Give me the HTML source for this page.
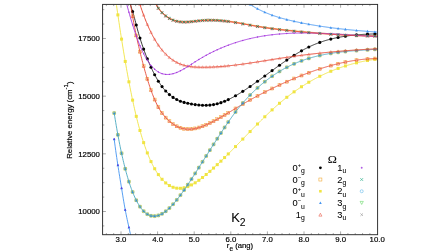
<!DOCTYPE html>
<html><head><meta charset="utf-8"><title>K2 potential curves</title>
<style>
html,body{margin:0;padding:0;background:#fff;}
body{width:448px;height:252px;overflow:hidden;}
svg{display:block;font-family:"Liberation Sans",Arial,Helvetica,sans-serif;}
svg text{fill:#000;}
svg .t text{stroke:#000;stroke-width:0.18px;}
svg .k text{stroke:#000;stroke-width:0.06px;}
</style></head><body>
<svg width="448" height="252" viewBox="0 0 448 252">
<rect x="0" y="0" width="448" height="252" fill="#ffffff"/>
<defs><clipPath id="pc"><rect x="102.60" y="4.40" width="275.00" height="230.30"/></clipPath></defs>
<g clip-path="url(#pc)">
<path d="M128.60,-3.78 L129.10,-1.06 L129.60,1.31 L130.10,3.37 L130.60,5.21 L131.10,6.87 L131.60,8.43 L132.10,9.94 L132.60,11.48 L133.10,13.09 L133.60,14.82 L134.10,16.63 L134.60,18.51 L135.10,20.43 L135.60,22.37 L136.10,24.31 L136.60,26.22 L137.10,28.09 L137.60,29.92 L138.10,31.71 L138.60,33.46 L139.10,35.17 L139.60,36.84 L140.10,38.47 L140.60,40.07 L141.10,41.64 L141.60,43.17 L142.10,44.67 L142.60,46.14 L143.10,47.58 L143.60,48.99 L144.10,50.37 L144.60,51.73 L145.10,53.06 L145.60,54.37 L146.10,55.65 L146.60,56.92 L147.10,58.16 L147.60,59.38 L148.10,60.59 L148.60,61.78 L149.10,62.95 L149.60,64.10 L150.10,65.23 L150.60,66.34 L151.10,67.44 L151.60,68.51 L152.10,69.57 L152.60,70.61 L153.10,71.63 L153.60,72.63 L154.10,73.61 L154.60,74.57 L155.10,75.51 L155.60,76.44 L156.10,77.34 L156.60,78.22 L157.10,79.09 L157.60,79.93 L158.10,80.76 L158.60,81.56 L159.10,82.35 L159.60,83.12 L160.10,83.86 L160.60,84.59 L161.10,85.30 L161.60,85.99 L162.10,86.66 L162.60,87.32 L163.10,87.96 L163.60,88.58 L164.10,89.18 L164.60,89.76 L165.10,90.33 L165.60,90.89 L166.10,91.42 L166.60,91.94 L167.10,92.45 L167.60,92.94 L168.10,93.42 L168.60,93.88 L169.10,94.32 L169.60,94.76 L170.10,95.18 L170.60,95.58 L171.10,95.97 L171.60,96.35 L172.10,96.72 L172.60,97.07 L173.10,97.41 L173.60,97.74 L174.10,98.06 L174.60,98.37 L175.10,98.67 L175.60,98.95 L176.10,99.23 L176.60,99.49 L177.10,99.74 L177.60,99.99 L178.10,100.22 L178.60,100.45 L179.10,100.67 L179.60,100.88 L180.10,101.08 L180.60,101.27 L181.10,101.46 L181.60,101.63 L182.10,101.80 L182.60,101.97 L183.10,102.12 L183.60,102.27 L184.10,102.42 L184.60,102.56 L185.10,102.69 L185.60,102.82 L186.10,102.94 L186.60,103.06 L187.10,103.17 L187.60,103.28 L188.10,103.38 L188.60,103.48 L189.10,103.58 L189.60,103.68 L190.10,103.77 L190.60,103.86 L191.10,103.95 L191.60,104.03 L192.10,104.12 L192.60,104.20 L193.10,104.28 L193.60,104.36 L194.10,104.43 L194.60,104.51 L195.10,104.58 L195.60,104.64 L196.10,104.71 L196.60,104.77 L197.10,104.83 L197.60,104.89 L198.10,104.94 L198.60,104.99 L199.10,105.04 L199.60,105.09 L200.10,105.13 L200.60,105.16 L201.10,105.20 L201.60,105.23 L202.10,105.25 L202.60,105.28 L203.10,105.29 L203.60,105.31 L204.10,105.32 L204.60,105.32 L205.10,105.33 L205.60,105.32 L206.10,105.32 L206.60,105.30 L207.10,105.29 L207.60,105.26 L208.10,105.24 L208.60,105.21 L209.10,105.17 L209.60,105.13 L210.10,105.08 L210.60,105.02 L211.10,104.97 L211.60,104.90 L212.10,104.83 L212.60,104.75 L213.10,104.67 L213.60,104.58 L214.10,104.49 L214.60,104.39 L215.10,104.28 L215.60,104.17 L216.10,104.06 L216.60,103.93 L217.10,103.80 L217.60,103.67 L218.10,103.53 L218.60,103.38 L219.10,103.23 L219.60,103.08 L220.10,102.92 L220.60,102.75 L221.10,102.58 L221.60,102.40 L222.10,102.22 L222.60,102.04 L223.10,101.85 L223.60,101.65 L224.10,101.45 L224.60,101.25 L225.10,101.04 L225.60,100.82 L226.10,100.61 L226.60,100.39 L227.10,100.16 L227.60,99.93 L228.10,99.70 L228.60,99.46 L229.10,99.22 L229.60,98.97 L230.10,98.72 L230.60,98.47 L231.10,98.21 L231.60,97.95 L232.10,97.69 L232.60,97.42 L233.10,97.15 L233.60,96.88 L234.10,96.60 L234.60,96.32 L235.10,96.04 L235.60,95.75 L236.10,95.46 L236.60,95.17 L237.10,94.88 L237.60,94.58 L238.10,94.28 L238.60,93.98 L239.10,93.67 L239.60,93.37 L240.10,93.06 L240.60,92.75 L241.10,92.43 L241.60,92.12 L242.10,91.80 L242.60,91.48 L243.10,91.16 L243.60,90.84 L244.10,90.51 L244.60,90.18 L245.10,89.86 L245.60,89.53 L246.10,89.19 L246.60,88.86 L247.10,88.53 L247.60,88.19 L248.10,87.85 L248.60,87.51 L249.10,87.17 L249.60,86.83 L250.10,86.48 L250.60,86.14 L251.10,85.79 L251.60,85.45 L252.10,85.10 L252.60,84.75 L253.10,84.40 L253.60,84.04 L254.10,83.69 L254.60,83.34 L255.10,82.98 L255.60,82.63 L256.10,82.27 L256.60,81.91 L257.10,81.55 L257.60,81.19 L258.10,80.83 L258.60,80.47 L259.10,80.11 L259.60,79.75 L260.10,79.39 L260.60,79.02 L261.10,78.66 L261.60,78.29 L262.10,77.93 L262.60,77.56 L263.10,77.20 L263.60,76.83 L264.10,76.47 L264.60,76.10 L265.10,75.73 L265.60,75.36 L266.10,75.00 L266.60,74.63 L267.10,74.26 L267.60,73.90 L268.10,73.53 L268.60,73.16 L269.10,72.79 L269.60,72.43 L270.10,72.06 L270.60,71.69 L271.10,71.32 L271.60,70.96 L272.10,70.59 L272.60,70.22 L273.10,69.86 L273.60,69.49 L274.10,69.13 L274.60,68.76 L275.10,68.40 L275.60,68.04 L276.10,67.67 L276.60,67.31 L277.10,66.95 L277.60,66.59 L278.10,66.23 L278.60,65.87 L279.10,65.51 L279.60,65.15 L280.10,64.79 L280.60,64.44 L281.10,64.08 L281.60,63.73 L282.10,63.38 L282.60,63.02 L283.10,62.67 L283.60,62.32 L284.10,61.97 L284.60,61.63 L285.10,61.28 L285.60,60.93 L286.10,60.59 L286.60,60.25 L287.10,59.91 L287.60,59.57 L288.10,59.23 L288.60,58.89 L289.10,58.56 L289.60,58.22 L290.10,57.89 L290.60,57.56 L291.10,57.23 L291.60,56.91 L292.10,56.58 L292.60,56.26 L293.10,55.94 L293.60,55.62 L294.10,55.30 L294.60,54.98 L295.10,54.67 L295.60,54.36 L296.10,54.05 L296.60,53.74 L297.10,53.44 L297.60,53.13 L298.10,52.83 L298.60,52.53 L299.10,52.24 L299.60,51.94 L300.10,51.65 L300.60,51.36 L301.10,51.08 L301.60,50.79 L302.10,50.51 L302.60,50.23 L303.10,49.96 L303.60,49.68 L304.10,49.41 L304.60,49.15 L305.10,48.88 L305.60,48.62 L306.10,48.36 L306.60,48.10 L307.10,47.85 L307.60,47.60 L308.10,47.35 L308.60,47.11 L309.10,46.87 L309.60,46.63 L310.10,46.39 L310.60,46.16 L311.10,45.93 L311.60,45.71 L312.10,45.48 L312.60,45.26 L313.10,45.05 L313.60,44.83 L314.10,44.62 L314.60,44.41 L315.10,44.21 L315.60,44.01 L316.10,43.81 L316.60,43.61 L317.10,43.42 L317.60,43.23 L318.10,43.04 L318.60,42.85 L319.10,42.67 L319.60,42.49 L320.10,42.31 L320.60,42.13 L321.10,41.96 L321.60,41.79 L322.10,41.62 L322.60,41.46 L323.10,41.30 L323.60,41.13 L324.10,40.98 L324.60,40.82 L325.10,40.67 L325.60,40.52 L326.10,40.37 L326.60,40.22 L327.10,40.08 L327.60,39.94 L328.10,39.80 L328.60,39.66 L329.10,39.53 L329.60,39.39 L330.10,39.26 L330.60,39.14 L331.10,39.01 L331.60,38.89 L332.10,38.76 L332.60,38.64 L333.10,38.53 L333.60,38.41 L334.10,38.29 L334.60,38.18 L335.10,38.07 L335.60,37.96 L336.10,37.86 L336.60,37.75 L337.10,37.65 L337.60,37.55 L338.10,37.45 L338.60,37.35 L339.10,37.26 L339.60,37.16 L340.10,37.07 L340.60,36.98 L341.10,36.89 L341.60,36.80 L342.10,36.72 L342.60,36.63 L343.10,36.55 L343.60,36.47 L344.10,36.39 L344.60,36.31 L345.10,36.24 L345.60,36.16 L346.10,36.09 L346.60,36.02 L347.10,35.95 L347.60,35.88 L348.10,35.81 L348.60,35.75 L349.10,35.68 L349.60,35.62 L350.10,35.56 L350.60,35.50 L351.10,35.44 L351.60,35.38 L352.10,35.32 L352.60,35.27 L353.10,35.22 L353.60,35.16 L354.10,35.11 L354.60,35.06 L355.10,35.01 L355.60,34.97 L356.10,34.92 L356.60,34.88 L357.10,34.83 L357.60,34.79 L358.10,34.75 L358.60,34.71 L359.10,34.67 L359.60,34.63 L360.10,34.60 L360.60,34.56 L361.10,34.52 L361.60,34.49 L362.10,34.46 L362.60,34.43 L363.10,34.40 L363.60,34.37 L364.10,34.34 L364.60,34.31 L365.10,34.28 L365.60,34.26 L366.10,34.23 L366.60,34.21 L367.10,34.18 L367.60,34.16 L368.10,34.14 L368.60,34.12 L369.10,34.10 L369.60,34.08 L370.10,34.06 L370.60,34.04 L371.10,34.03 L371.60,34.01 L372.10,33.99 L372.60,33.98 L373.10,33.97 L373.60,33.95 L374.10,33.94 L374.60,33.93 L375.10,33.92 L375.60,33.90 L376.10,33.89 L376.60,33.88 L377.10,33.88 L377.60,33.87 L378.00,33.86" fill="none" stroke="#000000" stroke-width="0.80" stroke-linejoin="round"/>
<circle cx="132.60" cy="11.48" r="1.55" fill="#000000"/>
<circle cx="136.28" cy="25.00" r="1.55" fill="#000000"/>
<circle cx="139.96" cy="38.02" r="1.55" fill="#000000"/>
<circle cx="143.64" cy="49.10" r="1.55" fill="#000000"/>
<circle cx="147.32" cy="58.70" r="1.55" fill="#000000"/>
<circle cx="151.00" cy="67.22" r="1.55" fill="#000000"/>
<circle cx="154.68" cy="74.72" r="1.55" fill="#000000"/>
<circle cx="158.36" cy="81.18" r="1.55" fill="#000000"/>
<circle cx="162.04" cy="86.58" r="1.55" fill="#000000"/>
<circle cx="165.72" cy="91.02" r="1.55" fill="#000000"/>
<circle cx="169.40" cy="94.59" r="1.55" fill="#000000"/>
<circle cx="173.08" cy="97.40" r="1.55" fill="#000000"/>
<circle cx="176.76" cy="99.57" r="1.55" fill="#000000"/>
<circle cx="180.44" cy="101.21" r="1.55" fill="#000000"/>
<circle cx="184.12" cy="102.42" r="1.55" fill="#000000"/>
<circle cx="187.80" cy="103.32" r="1.55" fill="#000000"/>
<circle cx="191.48" cy="104.01" r="1.55" fill="#000000"/>
<circle cx="195.16" cy="104.58" r="1.55" fill="#000000"/>
<circle cx="198.84" cy="105.02" r="1.55" fill="#000000"/>
<circle cx="202.52" cy="105.27" r="1.55" fill="#000000"/>
<circle cx="206.20" cy="105.31" r="1.55" fill="#000000"/>
<circle cx="209.88" cy="105.10" r="1.55" fill="#000000"/>
<circle cx="213.56" cy="104.59" r="1.55" fill="#000000"/>
<circle cx="217.24" cy="103.77" r="1.55" fill="#000000"/>
<circle cx="220.92" cy="102.64" r="1.55" fill="#000000"/>
<circle cx="224.60" cy="101.25" r="1.55" fill="#000000"/>
<circle cx="228.28" cy="99.61" r="1.55" fill="#000000"/>
<circle cx="235.50" cy="95.81" r="1.55" fill="#000000"/>
<circle cx="242.80" cy="91.35" r="1.55" fill="#000000"/>
<circle cx="250.10" cy="86.48" r="1.55" fill="#000000"/>
<circle cx="257.50" cy="81.27" r="1.55" fill="#000000"/>
<circle cx="264.80" cy="75.95" r="1.55" fill="#000000"/>
<circle cx="272.10" cy="70.59" r="1.55" fill="#000000"/>
<circle cx="279.50" cy="65.22" r="1.55" fill="#000000"/>
<circle cx="286.80" cy="60.11" r="1.55" fill="#000000"/>
<circle cx="294.10" cy="55.30" r="1.55" fill="#000000"/>
<circle cx="301.50" cy="50.85" r="1.55" fill="#000000"/>
<circle cx="308.80" cy="47.01" r="1.55" fill="#000000"/>
<circle cx="319.80" cy="42.42" r="1.55" fill="#000000"/>
<circle cx="330.80" cy="39.09" r="1.55" fill="#000000"/>
<circle cx="338.10" cy="37.45" r="1.55" fill="#000000"/>
<circle cx="345.40" cy="36.19" r="1.55" fill="#000000"/>
<circle cx="356.50" cy="34.89" r="1.55" fill="#000000"/>
<circle cx="367.50" cy="34.17" r="1.55" fill="#000000"/>
<circle cx="374.90" cy="33.92" r="1.55" fill="#000000"/>
<rect x="131.10" y="14.85" width="3" height="3" fill="#FBE0A8" fill-opacity="0.35" stroke="#F4B038" stroke-width="0.42"/>
<rect x="134.78" y="33.96" width="3" height="3" fill="#FBE0A8" fill-opacity="0.35" stroke="#F4B038" stroke-width="0.42"/>
<rect x="138.46" y="50.18" width="3" height="3" fill="#FBE0A8" fill-opacity="0.35" stroke="#F4B038" stroke-width="0.42"/>
<rect x="142.14" y="64.61" width="3" height="3" fill="#FBE0A8" fill-opacity="0.35" stroke="#F4B038" stroke-width="0.42"/>
<rect x="145.82" y="77.46" width="3" height="3" fill="#FBE0A8" fill-opacity="0.35" stroke="#F4B038" stroke-width="0.42"/>
<rect x="149.50" y="88.64" width="3" height="3" fill="#FBE0A8" fill-opacity="0.35" stroke="#F4B038" stroke-width="0.42"/>
<rect x="153.18" y="98.08" width="3" height="3" fill="#FBE0A8" fill-opacity="0.35" stroke="#F4B038" stroke-width="0.42"/>
<rect x="156.86" y="105.71" width="3" height="3" fill="#FBE0A8" fill-opacity="0.35" stroke="#F4B038" stroke-width="0.42"/>
<rect x="160.54" y="111.58" width="3" height="3" fill="#FBE0A8" fill-opacity="0.35" stroke="#F4B038" stroke-width="0.42"/>
<rect x="164.22" y="116.11" width="3" height="3" fill="#FBE0A8" fill-opacity="0.35" stroke="#F4B038" stroke-width="0.42"/>
<rect x="167.90" y="119.73" width="3" height="3" fill="#FBE0A8" fill-opacity="0.35" stroke="#F4B038" stroke-width="0.42"/>
<rect x="171.58" y="122.61" width="3" height="3" fill="#FBE0A8" fill-opacity="0.35" stroke="#F4B038" stroke-width="0.42"/>
<rect x="175.26" y="124.80" width="3" height="3" fill="#FBE0A8" fill-opacity="0.35" stroke="#F4B038" stroke-width="0.42"/>
<rect x="178.94" y="126.32" width="3" height="3" fill="#FBE0A8" fill-opacity="0.35" stroke="#F4B038" stroke-width="0.42"/>
<rect x="182.62" y="127.25" width="3" height="3" fill="#FBE0A8" fill-opacity="0.35" stroke="#F4B038" stroke-width="0.42"/>
<rect x="186.30" y="127.62" width="3" height="3" fill="#FBE0A8" fill-opacity="0.35" stroke="#F4B038" stroke-width="0.42"/>
<rect x="189.98" y="127.50" width="3" height="3" fill="#FBE0A8" fill-opacity="0.35" stroke="#F4B038" stroke-width="0.42"/>
<rect x="193.66" y="126.95" width="3" height="3" fill="#FBE0A8" fill-opacity="0.35" stroke="#F4B038" stroke-width="0.42"/>
<rect x="197.34" y="126.02" width="3" height="3" fill="#FBE0A8" fill-opacity="0.35" stroke="#F4B038" stroke-width="0.42"/>
<rect x="201.02" y="124.78" width="3" height="3" fill="#FBE0A8" fill-opacity="0.35" stroke="#F4B038" stroke-width="0.42"/>
<rect x="204.70" y="123.27" width="3" height="3" fill="#FBE0A8" fill-opacity="0.35" stroke="#F4B038" stroke-width="0.42"/>
<rect x="208.38" y="121.56" width="3" height="3" fill="#FBE0A8" fill-opacity="0.35" stroke="#F4B038" stroke-width="0.42"/>
<rect x="212.06" y="119.71" width="3" height="3" fill="#FBE0A8" fill-opacity="0.35" stroke="#F4B038" stroke-width="0.42"/>
<rect x="215.74" y="117.73" width="3" height="3" fill="#FBE0A8" fill-opacity="0.35" stroke="#F4B038" stroke-width="0.42"/>
<rect x="219.42" y="115.67" width="3" height="3" fill="#FBE0A8" fill-opacity="0.35" stroke="#F4B038" stroke-width="0.42"/>
<rect x="223.10" y="113.53" width="3" height="3" fill="#FBE0A8" fill-opacity="0.35" stroke="#F4B038" stroke-width="0.42"/>
<rect x="226.78" y="111.34" width="3" height="3" fill="#FBE0A8" fill-opacity="0.35" stroke="#F4B038" stroke-width="0.42"/>
<rect x="234.00" y="106.98" width="3" height="3" fill="#FBE0A8" fill-opacity="0.35" stroke="#F4B038" stroke-width="0.42"/>
<rect x="241.30" y="102.61" width="3" height="3" fill="#FBE0A8" fill-opacity="0.35" stroke="#F4B038" stroke-width="0.42"/>
<rect x="248.60" y="98.44" width="3" height="3" fill="#FBE0A8" fill-opacity="0.35" stroke="#F4B038" stroke-width="0.42"/>
<rect x="256.00" y="94.40" width="3" height="3" fill="#FBE0A8" fill-opacity="0.35" stroke="#F4B038" stroke-width="0.42"/>
<rect x="263.30" y="90.61" width="3" height="3" fill="#FBE0A8" fill-opacity="0.35" stroke="#F4B038" stroke-width="0.42"/>
<rect x="270.60" y="86.99" width="3" height="3" fill="#FBE0A8" fill-opacity="0.35" stroke="#F4B038" stroke-width="0.42"/>
<rect x="278.00" y="83.48" width="3" height="3" fill="#FBE0A8" fill-opacity="0.35" stroke="#F4B038" stroke-width="0.42"/>
<rect x="285.30" y="80.17" width="3" height="3" fill="#FBE0A8" fill-opacity="0.35" stroke="#F4B038" stroke-width="0.42"/>
<rect x="292.60" y="77.01" width="3" height="3" fill="#FBE0A8" fill-opacity="0.35" stroke="#F4B038" stroke-width="0.42"/>
<rect x="300.00" y="73.99" width="3" height="3" fill="#FBE0A8" fill-opacity="0.35" stroke="#F4B038" stroke-width="0.42"/>
<rect x="307.30" y="71.20" width="3" height="3" fill="#FBE0A8" fill-opacity="0.35" stroke="#F4B038" stroke-width="0.42"/>
<rect x="318.30" y="67.39" width="3" height="3" fill="#FBE0A8" fill-opacity="0.35" stroke="#F4B038" stroke-width="0.42"/>
<rect x="329.30" y="64.09" width="3" height="3" fill="#FBE0A8" fill-opacity="0.35" stroke="#F4B038" stroke-width="0.42"/>
<rect x="336.60" y="62.20" width="3" height="3" fill="#FBE0A8" fill-opacity="0.35" stroke="#F4B038" stroke-width="0.42"/>
<rect x="343.90" y="60.58" width="3" height="3" fill="#FBE0A8" fill-opacity="0.35" stroke="#F4B038" stroke-width="0.42"/>
<rect x="355.00" y="58.66" width="3" height="3" fill="#FBE0A8" fill-opacity="0.35" stroke="#F4B038" stroke-width="0.42"/>
<rect x="366.00" y="57.44" width="3" height="3" fill="#FBE0A8" fill-opacity="0.35" stroke="#F4B038" stroke-width="0.42"/>
<rect x="373.40" y="57.03" width="3" height="3" fill="#FBE0A8" fill-opacity="0.35" stroke="#F4B038" stroke-width="0.42"/>
<path d="M114.50,-8.98 L115.00,-5.35 L115.50,-1.75 L116.00,1.81 L116.50,5.34 L117.00,8.83 L117.50,12.29 L118.00,15.72 L118.50,19.11 L119.00,22.47 L119.50,25.80 L120.00,29.09 L120.50,32.34 L121.00,35.56 L121.50,38.75 L122.00,41.90 L122.50,45.01 L123.00,48.09 L123.50,51.14 L124.00,54.14 L124.50,57.12 L125.00,60.05 L125.50,62.95 L126.00,65.82 L126.50,68.64 L127.00,71.43 L127.50,74.19 L128.00,76.90 L128.50,79.58 L129.00,82.23 L129.50,84.83 L130.00,87.40 L130.50,89.93 L131.00,92.42 L131.50,94.87 L132.00,97.29 L132.50,99.66 L133.00,102.00 L133.50,104.30 L134.00,106.56 L134.50,108.78 L135.00,110.96 L135.50,113.11 L136.00,115.21 L136.50,117.27 L137.00,119.30 L137.50,121.28 L138.00,123.23 L138.50,125.14 L139.00,127.01 L139.50,128.84 L140.00,130.63 L140.50,132.39 L141.00,134.11 L141.50,135.80 L142.00,137.45 L142.50,139.06 L143.00,140.64 L143.50,142.19 L144.00,143.70 L144.50,145.18 L145.00,146.63 L145.50,148.04 L146.00,149.43 L146.50,150.78 L147.00,152.09 L147.50,153.38 L148.00,154.64 L148.50,155.87 L149.00,157.07 L149.50,158.24 L150.00,159.38 L150.50,160.49 L151.00,161.57 L151.50,162.63 L152.00,163.66 L152.50,164.67 L153.00,165.64 L153.50,166.60 L154.00,167.52 L154.50,168.42 L155.00,169.30 L155.50,170.16 L156.00,170.99 L156.50,171.79 L157.00,172.58 L157.50,173.34 L158.00,174.08 L158.50,174.80 L159.00,175.49 L159.50,176.17 L160.00,176.83 L160.50,177.46 L161.00,178.08 L161.50,178.67 L162.00,179.25 L162.50,179.80 L163.00,180.34 L163.50,180.85 L164.00,181.35 L164.50,181.83 L165.00,182.29 L165.50,182.73 L166.00,183.15 L166.50,183.56 L167.00,183.94 L167.50,184.31 L168.00,184.66 L168.50,185.00 L169.00,185.31 L169.50,185.61 L170.00,185.90 L170.50,186.16 L171.00,186.41 L171.50,186.65 L172.00,186.86 L172.50,187.07 L173.00,187.25 L173.50,187.42 L174.00,187.58 L174.50,187.72 L175.00,187.84 L175.50,187.95 L176.00,188.05 L176.50,188.13 L177.00,188.20 L177.50,188.26 L178.00,188.30 L178.50,188.32 L179.00,188.34 L179.50,188.34 L180.00,188.32 L180.50,188.30 L181.00,188.26 L181.50,188.21 L182.00,188.15 L182.50,188.07 L183.00,187.99 L183.50,187.89 L184.00,187.78 L184.50,187.66 L185.00,187.53 L185.50,187.39 L186.00,187.24 L186.50,187.07 L187.00,186.90 L187.50,186.72 L188.00,186.52 L188.50,186.32 L189.00,186.11 L189.50,185.89 L190.00,185.66 L190.50,185.42 L191.00,185.17 L191.50,184.91 L192.00,184.65 L192.50,184.38 L193.00,184.10 L193.50,183.81 L194.00,183.51 L194.50,183.21 L195.00,182.90 L195.50,182.58 L196.00,182.26 L196.50,181.93 L197.00,181.59 L197.50,181.25 L198.00,180.90 L198.50,180.54 L199.00,180.18 L199.50,179.82 L200.00,179.45 L200.50,179.07 L201.00,178.69 L201.50,178.31 L202.00,177.92 L202.50,177.52 L203.00,177.12 L203.50,176.72 L204.00,176.32 L204.50,175.91 L205.00,175.50 L205.50,175.08 L206.00,174.66 L206.50,174.24 L207.00,173.82 L207.50,173.40 L208.00,172.97 L208.50,172.54 L209.00,172.10 L209.50,171.67 L210.00,171.23 L210.50,170.79 L211.00,170.35 L211.50,169.90 L212.00,169.46 L212.50,169.01 L213.00,168.56 L213.50,168.10 L214.00,167.65 L214.50,167.19 L215.00,166.73 L215.50,166.27 L216.00,165.81 L216.50,165.34 L217.00,164.88 L217.50,164.41 L218.00,163.94 L218.50,163.46 L219.00,162.99 L219.50,162.51 L220.00,162.04 L220.50,161.56 L221.00,161.08 L221.50,160.59 L222.00,160.11 L222.50,159.63 L223.00,159.14 L223.50,158.65 L224.00,158.16 L224.50,157.67 L225.00,157.18 L225.50,156.69 L226.00,156.19 L226.50,155.69 L227.00,155.20 L227.50,154.70 L228.00,154.20 L228.50,153.70 L229.00,153.20 L229.50,152.70 L230.00,152.19 L230.50,151.69 L231.00,151.18 L231.50,150.68 L232.00,150.17 L232.50,149.66 L233.00,149.15 L233.50,148.64 L234.00,148.13 L234.50,147.62 L235.00,147.11 L235.50,146.60 L236.00,146.09 L236.50,145.57 L237.00,145.06 L237.50,144.55 L238.00,144.03 L238.50,143.52 L239.00,143.00 L239.50,142.49 L240.00,141.97 L240.50,141.46 L241.00,140.94 L241.50,140.42 L242.00,139.91 L242.50,139.39 L243.00,138.87 L243.50,138.36 L244.00,137.84 L244.50,137.32 L245.00,136.81 L245.50,136.29 L246.00,135.77 L246.50,135.26 L247.00,134.74 L247.50,134.23 L248.00,133.71 L248.50,133.19 L249.00,132.68 L249.50,132.17 L250.00,131.65 L250.50,131.14 L251.00,130.62 L251.50,130.11 L252.00,129.60 L252.50,129.09 L253.00,128.58 L253.50,128.07 L254.00,127.56 L254.50,127.05 L255.00,126.54 L255.50,126.03 L256.00,125.53 L256.50,125.02 L257.00,124.52 L257.50,124.01 L258.00,123.51 L258.50,123.01 L259.00,122.51 L259.50,122.01 L260.00,121.51 L260.50,121.01 L261.00,120.51 L261.50,120.02 L262.00,119.52 L262.50,119.03 L263.00,118.54 L263.50,118.05 L264.00,117.56 L264.50,117.07 L265.00,116.59 L265.50,116.10 L266.00,115.62 L266.50,115.14 L267.00,114.66 L267.50,114.18 L268.00,113.71 L268.50,113.23 L269.00,112.76 L269.50,112.29 L270.00,111.82 L270.50,111.35 L271.00,110.88 L271.50,110.42 L272.00,109.96 L272.50,109.50 L273.00,109.04 L273.50,108.58 L274.00,108.13 L274.50,107.68 L275.00,107.23 L275.50,106.78 L276.00,106.34 L276.50,105.89 L277.00,105.45 L277.50,105.01 L278.00,104.58 L278.50,104.14 L279.00,103.71 L279.50,103.28 L280.00,102.86 L280.50,102.43 L281.00,102.01 L281.50,101.59 L282.00,101.17 L282.50,100.76 L283.00,100.35 L283.50,99.94 L284.00,99.53 L284.50,99.13 L285.00,98.73 L285.50,98.33 L286.00,97.93 L286.50,97.53 L287.00,97.14 L287.50,96.75 L288.00,96.36 L288.50,95.98 L289.00,95.59 L289.50,95.21 L290.00,94.83 L290.50,94.46 L291.00,94.08 L291.50,93.71 L292.00,93.34 L292.50,92.98 L293.00,92.61 L293.50,92.25 L294.00,91.89 L294.50,91.53 L295.00,91.18 L295.50,90.82 L296.00,90.47 L296.50,90.13 L297.00,89.78 L297.50,89.43 L298.00,89.09 L298.50,88.75 L299.00,88.42 L299.50,88.08 L300.00,87.75 L300.50,87.42 L301.00,87.09 L301.50,86.76 L302.00,86.44 L302.50,86.12 L303.00,85.80 L303.50,85.48 L304.00,85.16 L304.50,84.85 L305.00,84.54 L305.50,84.23 L306.00,83.92 L306.50,83.62 L307.00,83.32 L307.50,83.02 L308.00,82.72 L308.50,82.42 L309.00,82.13 L309.50,81.84 L310.00,81.55 L310.50,81.26 L311.00,80.97 L311.50,80.69 L312.00,80.41 L312.50,80.13 L313.00,79.85 L313.50,79.57 L314.00,79.30 L314.50,79.03 L315.00,78.76 L315.50,78.49 L316.00,78.23 L316.50,77.96 L317.00,77.70 L317.50,77.44 L318.00,77.19 L318.50,76.93 L319.00,76.68 L319.50,76.43 L320.00,76.18 L320.50,75.93 L321.00,75.68 L321.50,75.44 L322.00,75.20 L322.50,74.96 L323.00,74.72 L323.50,74.49 L324.00,74.25 L324.50,74.02 L325.00,73.79 L325.50,73.56 L326.00,73.34 L326.50,73.11 L327.00,72.89 L327.50,72.67 L328.00,72.45 L328.50,72.23 L329.00,72.02 L329.50,71.80 L330.00,71.59 L330.50,71.38 L331.00,71.18 L331.50,70.97 L332.00,70.77 L332.50,70.56 L333.00,70.36 L333.50,70.16 L334.00,69.97 L334.50,69.77 L335.00,69.58 L335.50,69.39 L336.00,69.20 L336.50,69.01 L337.00,68.82 L337.50,68.64 L338.00,68.46 L338.50,68.27 L339.00,68.09 L339.50,67.92 L340.00,67.74 L340.50,67.57 L341.00,67.39 L341.50,67.22 L342.00,67.05 L342.50,66.89 L343.00,66.72 L343.50,66.56 L344.00,66.39 L344.50,66.23 L345.00,66.07 L345.50,65.92 L346.00,65.76 L346.50,65.61 L347.00,65.45 L347.50,65.30 L348.00,65.15 L348.50,65.01 L349.00,64.86 L349.50,64.72 L350.00,64.57 L350.50,64.43 L351.00,64.29 L351.50,64.15 L352.00,64.02 L352.50,63.88 L353.00,63.75 L353.50,63.62 L354.00,63.48 L354.50,63.36 L355.00,63.23 L355.50,63.10 L356.00,62.98 L356.50,62.85 L357.00,62.73 L357.50,62.61 L358.00,62.50 L358.50,62.38 L359.00,62.26 L359.50,62.15 L360.00,62.04 L360.50,61.92 L361.00,61.82 L361.50,61.71 L362.00,61.60 L362.50,61.49 L363.00,61.39 L363.50,61.29 L364.00,61.19 L364.50,61.09 L365.00,60.99 L365.50,60.89 L366.00,60.80 L366.50,60.70 L367.00,60.61 L367.50,60.52 L368.00,60.43 L368.50,60.34 L369.00,60.25 L369.50,60.17 L370.00,60.08 L370.50,60.00 L371.00,59.92 L371.50,59.84 L372.00,59.76 L372.50,59.68 L373.00,59.60 L373.50,59.53 L374.00,59.45 L374.50,59.38 L375.00,59.31 L375.50,59.24 L376.00,59.17 L376.50,59.10 L377.00,59.03 L377.50,58.97 L378.00,58.90" fill="none" stroke="#F0E442" stroke-width="0.90" stroke-linejoin="round"/>
<rect x="116.38" y="13.40" width="3.00" height="3.00" fill="#F0E442"/>
<rect x="120.06" y="37.63" width="3.00" height="3.00" fill="#F0E442"/>
<rect x="123.74" y="59.95" width="3.00" height="3.00" fill="#F0E442"/>
<rect x="127.42" y="80.31" width="3.00" height="3.00" fill="#F0E442"/>
<rect x="131.10" y="98.63" width="3.00" height="3.00" fill="#F0E442"/>
<rect x="134.78" y="114.87" width="3.00" height="3.00" fill="#F0E442"/>
<rect x="138.46" y="128.99" width="3.00" height="3.00" fill="#F0E442"/>
<rect x="142.14" y="141.12" width="3.00" height="3.00" fill="#F0E442"/>
<rect x="145.82" y="151.42" width="3.00" height="3.00" fill="#F0E442"/>
<rect x="149.50" y="160.07" width="3.00" height="3.00" fill="#F0E442"/>
<rect x="153.18" y="167.24" width="3.00" height="3.00" fill="#F0E442"/>
<rect x="156.86" y="173.10" width="3.00" height="3.00" fill="#F0E442"/>
<rect x="160.54" y="177.79" width="3.00" height="3.00" fill="#F0E442"/>
<rect x="164.22" y="181.42" width="3.00" height="3.00" fill="#F0E442"/>
<rect x="167.90" y="184.06" width="3.00" height="3.00" fill="#F0E442"/>
<rect x="171.58" y="185.78" width="3.00" height="3.00" fill="#F0E442"/>
<rect x="175.26" y="186.67" width="3.00" height="3.00" fill="#F0E442"/>
<rect x="178.94" y="186.80" width="3.00" height="3.00" fill="#F0E442"/>
<rect x="182.62" y="186.25" width="3.00" height="3.00" fill="#F0E442"/>
<rect x="186.30" y="185.10" width="3.00" height="3.00" fill="#F0E442"/>
<rect x="189.98" y="183.42" width="3.00" height="3.00" fill="#F0E442"/>
<rect x="193.66" y="181.30" width="3.00" height="3.00" fill="#F0E442"/>
<rect x="197.34" y="178.80" width="3.00" height="3.00" fill="#F0E442"/>
<rect x="201.02" y="176.01" width="3.00" height="3.00" fill="#F0E442"/>
<rect x="204.70" y="173.00" width="3.00" height="3.00" fill="#F0E442"/>
<rect x="208.38" y="169.84" width="3.00" height="3.00" fill="#F0E442"/>
<rect x="212.06" y="166.55" width="3.00" height="3.00" fill="#F0E442"/>
<rect x="215.74" y="163.15" width="3.00" height="3.00" fill="#F0E442"/>
<rect x="219.42" y="159.65" width="3.00" height="3.00" fill="#F0E442"/>
<rect x="223.10" y="156.07" width="3.00" height="3.00" fill="#F0E442"/>
<rect x="226.78" y="152.42" width="3.00" height="3.00" fill="#F0E442"/>
<rect x="234.00" y="145.10" width="3.00" height="3.00" fill="#F0E442"/>
<rect x="241.30" y="137.58" width="3.00" height="3.00" fill="#F0E442"/>
<rect x="248.60" y="130.05" width="3.00" height="3.00" fill="#F0E442"/>
<rect x="256.00" y="122.51" width="3.00" height="3.00" fill="#F0E442"/>
<rect x="263.30" y="115.28" width="3.00" height="3.00" fill="#F0E442"/>
<rect x="270.60" y="108.37" width="3.00" height="3.00" fill="#F0E442"/>
<rect x="278.00" y="101.78" width="3.00" height="3.00" fill="#F0E442"/>
<rect x="285.30" y="95.80" width="3.00" height="3.00" fill="#F0E442"/>
<rect x="292.60" y="90.32" width="3.00" height="3.00" fill="#F0E442"/>
<rect x="300.00" y="85.26" width="3.00" height="3.00" fill="#F0E442"/>
<rect x="307.30" y="80.74" width="3.00" height="3.00" fill="#F0E442"/>
<rect x="318.30" y="74.78" width="3.00" height="3.00" fill="#F0E442"/>
<rect x="329.30" y="69.76" width="3.00" height="3.00" fill="#F0E442"/>
<rect x="336.60" y="66.92" width="3.00" height="3.00" fill="#F0E442"/>
<rect x="343.90" y="64.45" width="3.00" height="3.00" fill="#F0E442"/>
<rect x="355.00" y="61.35" width="3.00" height="3.00" fill="#F0E442"/>
<rect x="366.00" y="59.02" width="3.00" height="3.00" fill="#F0E442"/>
<rect x="373.40" y="57.82" width="3.00" height="3.00" fill="#F0E442"/>
<rect x="112.50" y="111.39" width="3.40" height="3.40" fill="#F2E84A"/>
<rect x="116.18" y="133.11" width="3.40" height="3.40" fill="#F2E84A"/>
<rect x="119.86" y="151.57" width="3.40" height="3.40" fill="#F2E84A"/>
<rect x="123.54" y="167.08" width="3.40" height="3.40" fill="#F2E84A"/>
<rect x="127.22" y="179.90" width="3.40" height="3.40" fill="#F2E84A"/>
<rect x="130.90" y="190.32" width="3.40" height="3.40" fill="#F2E84A"/>
<rect x="134.58" y="198.59" width="3.40" height="3.40" fill="#F2E84A"/>
<rect x="138.26" y="204.93" width="3.40" height="3.40" fill="#F2E84A"/>
<rect x="141.94" y="209.51" width="3.40" height="3.40" fill="#F2E84A"/>
<rect x="145.62" y="212.49" width="3.40" height="3.40" fill="#F2E84A"/>
<rect x="149.30" y="214.07" width="3.40" height="3.40" fill="#F2E84A"/>
<rect x="152.98" y="214.42" width="3.40" height="3.40" fill="#F2E84A"/>
<rect x="156.66" y="213.71" width="3.40" height="3.40" fill="#F2E84A"/>
<rect x="160.34" y="212.05" width="3.40" height="3.40" fill="#F2E84A"/>
<rect x="164.02" y="209.57" width="3.40" height="3.40" fill="#F2E84A"/>
<rect x="167.70" y="206.36" width="3.40" height="3.40" fill="#F2E84A"/>
<rect x="171.38" y="202.53" width="3.40" height="3.40" fill="#F2E84A"/>
<rect x="175.06" y="198.19" width="3.40" height="3.40" fill="#F2E84A"/>
<rect x="178.74" y="193.44" width="3.40" height="3.40" fill="#F2E84A"/>
<rect x="182.42" y="188.35" width="3.40" height="3.40" fill="#F2E84A"/>
<rect x="186.10" y="182.98" width="3.40" height="3.40" fill="#F2E84A"/>
<rect x="189.78" y="177.41" width="3.40" height="3.40" fill="#F2E84A"/>
<rect x="193.46" y="171.70" width="3.40" height="3.40" fill="#F2E84A"/>
<rect x="197.14" y="165.91" width="3.40" height="3.40" fill="#F2E84A"/>
<rect x="200.82" y="160.09" width="3.40" height="3.40" fill="#F2E84A"/>
<rect x="204.50" y="154.27" width="3.40" height="3.40" fill="#F2E84A"/>
<rect x="208.18" y="148.47" width="3.40" height="3.40" fill="#F2E84A"/>
<rect x="211.86" y="142.70" width="3.40" height="3.40" fill="#F2E84A"/>
<rect x="215.54" y="136.98" width="3.40" height="3.40" fill="#F2E84A"/>
<rect x="219.22" y="131.33" width="3.40" height="3.40" fill="#F2E84A"/>
<rect x="222.90" y="125.77" width="3.40" height="3.40" fill="#F2E84A"/>
<rect x="226.58" y="120.35" width="3.40" height="3.40" fill="#F2E84A"/>
<rect x="233.80" y="110.34" width="3.40" height="3.40" fill="#F2E84A"/>
<rect x="241.10" y="101.30" width="3.40" height="3.40" fill="#F2E84A"/>
<rect x="248.40" y="93.32" width="3.40" height="3.40" fill="#F2E84A"/>
<rect x="255.80" y="86.19" width="3.40" height="3.40" fill="#F2E84A"/>
<rect x="263.10" y="79.98" width="3.40" height="3.40" fill="#F2E84A"/>
<rect x="270.40" y="74.52" width="3.40" height="3.40" fill="#F2E84A"/>
<rect x="277.80" y="69.71" width="3.40" height="3.40" fill="#F2E84A"/>
<rect x="285.10" y="65.62" width="3.40" height="3.40" fill="#F2E84A"/>
<rect x="292.40" y="62.13" width="3.40" height="3.40" fill="#F2E84A"/>
<rect x="299.80" y="59.14" width="3.40" height="3.40" fill="#F2E84A"/>
<rect x="307.10" y="56.68" width="3.40" height="3.40" fill="#F2E84A"/>
<rect x="318.10" y="53.78" width="3.40" height="3.40" fill="#F2E84A"/>
<rect x="329.10" y="51.69" width="3.40" height="3.40" fill="#F2E84A"/>
<rect x="336.40" y="50.65" width="3.40" height="3.40" fill="#F2E84A"/>
<rect x="343.70" y="49.83" width="3.40" height="3.40" fill="#F2E84A"/>
<rect x="354.80" y="48.89" width="3.40" height="3.40" fill="#F2E84A"/>
<rect x="365.80" y="48.14" width="3.40" height="3.40" fill="#F2E84A"/>
<rect x="373.20" y="47.66" width="3.40" height="3.40" fill="#F2E84A"/>
<path d="M114.20,139.20 L114.70,143.06 L115.20,146.79 L115.70,150.42 L116.20,153.96 L116.70,157.40 L117.20,160.76 L117.70,164.05 L118.20,167.29 L118.70,170.47 L119.20,173.61 L119.70,176.71 L120.20,179.79 L120.70,182.86 L121.20,185.93 L121.70,189.00 L122.20,192.08 L122.70,195.15 L123.20,198.20 L123.70,201.20 L124.20,204.13 L124.70,206.97 L125.20,209.70 L125.70,212.31 L126.20,214.80 L126.70,217.21 L127.20,219.54 L127.70,221.83 L128.20,224.09 L128.70,226.34 L129.20,228.61 L129.70,230.89 L130.20,233.18 L130.70,235.45 L131.20,237.69 L131.70,239.88 L132.20,242.00" fill="none" stroke="#4394F0" stroke-width="0.90" stroke-linejoin="round"/>
<path d="M114.20,137.70 L115.55,140.25 L112.85,140.25 Z" fill="#4394F0"/>
<path d="M117.88,163.72 L119.23,166.27 L116.53,166.27 Z" fill="#4394F0"/>
<path d="M121.56,186.64 L122.91,189.19 L120.21,189.19 Z" fill="#4394F0"/>
<path d="M125.24,208.41 L126.59,210.96 L123.89,210.96 Z" fill="#4394F0"/>
<path d="M128.92,225.84 L130.27,228.39 L127.57,228.39 Z" fill="#4394F0"/>
<path d="M243.00,-0.42 L243.50,-0.05 L244.00,0.32 L244.50,0.69 L245.00,1.05 L245.50,1.40 L246.00,1.76 L246.50,2.10 L247.00,2.45 L247.50,2.79 L248.00,3.12 L248.50,3.46 L249.00,3.78 L249.50,4.11 L250.00,4.43 L250.50,4.74 L251.00,5.05 L251.50,5.36 L252.00,5.67 L252.50,5.97 L253.00,6.26 L253.50,6.56 L254.00,6.85 L254.50,7.13 L255.00,7.41 L255.50,7.69 L256.00,7.97 L256.50,8.24 L257.00,8.51 L257.50,8.77 L258.00,9.03 L258.50,9.29 L259.00,9.54 L259.50,9.80 L260.00,10.04 L260.50,10.29 L261.00,10.53 L261.50,10.77 L262.00,11.01 L262.50,11.24 L263.00,11.47 L263.50,11.69 L264.00,11.92 L264.50,12.14 L265.00,12.35 L265.50,12.57 L266.00,12.78 L266.50,12.99 L267.00,13.20 L267.50,13.40 L268.00,13.60 L268.50,13.80 L269.00,14.00 L269.50,14.19 L270.00,14.38 L270.50,14.57 L271.00,14.76 L271.50,14.94 L272.00,15.12 L272.50,15.30 L273.00,15.47 L273.50,15.65 L274.00,15.82 L274.50,15.99 L275.00,16.16 L275.50,16.32 L276.00,16.49 L276.50,16.65 L277.00,16.81 L277.50,16.97 L278.00,17.12 L278.50,17.27 L279.00,17.43 L279.50,17.58 L280.00,17.72 L280.50,17.87 L281.00,18.01 L281.50,18.16 L282.00,18.30 L282.50,18.44 L283.00,18.58 L283.50,18.71 L284.00,18.85 L284.50,18.98 L285.00,19.11 L285.50,19.24 L286.00,19.37 L286.50,19.50 L287.00,19.63 L287.50,19.75 L288.00,19.88 L288.50,20.00 L289.00,20.12 L289.50,20.24 L290.00,20.36 L290.50,20.48 L291.00,20.60 L291.50,20.71 L292.00,20.83 L292.50,20.94 L293.00,21.06 L293.50,21.17 L294.00,21.28 L294.50,21.39 L295.00,21.50 L295.50,21.61 L296.00,21.72 L296.50,21.83 L297.00,21.94 L297.50,22.04 L298.00,22.15 L298.50,22.26 L299.00,22.36 L299.50,22.46 L300.00,22.57 L300.50,22.67 L301.00,22.77 L301.50,22.87 L302.00,22.97 L302.50,23.07 L303.00,23.17 L303.50,23.27 L304.00,23.37 L304.50,23.46 L305.00,23.56 L305.50,23.65 L306.00,23.75 L306.50,23.84 L307.00,23.94 L307.50,24.03 L308.00,24.12 L308.50,24.21 L309.00,24.30 L309.50,24.39 L310.00,24.48 L310.50,24.57 L311.00,24.66 L311.50,24.75 L312.00,24.83 L312.50,24.92 L313.00,25.00 L313.50,25.09 L314.00,25.17 L314.50,25.26 L315.00,25.34 L315.50,25.42 L316.00,25.50 L316.50,25.58 L317.00,25.66 L317.50,25.74 L318.00,25.82 L318.50,25.90 L319.00,25.98 L319.50,26.06 L320.00,26.14 L320.50,26.21 L321.00,26.29 L321.50,26.36 L322.00,26.44 L322.50,26.51 L323.00,26.59 L323.50,26.66 L324.00,26.73 L324.50,26.80 L325.00,26.87 L325.50,26.94 L326.00,27.01 L326.50,27.08 L327.00,27.15 L327.50,27.22 L328.00,27.29 L328.50,27.36 L329.00,27.43 L329.50,27.49 L330.00,27.56 L330.50,27.62 L331.00,27.69 L331.50,27.75 L332.00,27.82 L332.50,27.88 L333.00,27.95 L333.50,28.01 L334.00,28.07 L334.50,28.13 L335.00,28.19 L335.50,28.25 L336.00,28.31 L336.50,28.37 L337.00,28.43 L337.50,28.49 L338.00,28.55 L338.50,28.61 L339.00,28.67 L339.50,28.72 L340.00,28.78 L340.50,28.84 L341.00,28.89 L341.50,28.95 L342.00,29.00 L342.50,29.06 L343.00,29.11 L343.50,29.17 L344.00,29.22 L344.50,29.27 L345.00,29.33 L345.50,29.38 L346.00,29.43 L346.50,29.48 L347.00,29.53 L347.50,29.59 L348.00,29.64 L348.50,29.69 L349.00,29.74 L349.50,29.79 L350.00,29.83 L350.50,29.88 L351.00,29.93 L351.50,29.98 L352.00,30.03 L352.50,30.07 L353.00,30.12 L353.50,30.17 L354.00,30.21 L354.50,30.26 L355.00,30.31 L355.50,30.35 L356.00,30.40 L356.50,30.44 L357.00,30.49 L357.50,30.53 L358.00,30.57 L358.50,30.62 L359.00,30.66 L359.50,30.70 L360.00,30.75 L360.50,30.79 L361.00,30.83 L361.50,30.87 L362.00,30.92 L362.50,30.96 L363.00,31.00 L363.50,31.04 L364.00,31.08 L364.50,31.12 L365.00,31.16 L365.50,31.20 L366.00,31.24 L366.50,31.28 L367.00,31.32 L367.50,31.36 L368.00,31.40 L368.50,31.44 L369.00,31.47 L369.50,31.51 L370.00,31.55 L370.50,31.59 L371.00,31.63 L371.50,31.66 L372.00,31.70 L372.50,31.74 L373.00,31.77 L373.50,31.81 L374.00,31.85 L374.50,31.88 L375.00,31.92 L375.50,31.96 L376.00,31.99 L376.50,32.03 L377.00,32.06 L377.50,32.10 L378.00,32.13" fill="none" stroke="#4394F0" stroke-width="0.90" stroke-linejoin="round"/>
<path d="M250.10,2.99 L251.45,5.54 L248.75,5.54 Z" fill="#4394F0"/>
<path d="M257.50,7.27 L258.85,9.82 L256.15,9.82 Z" fill="#4394F0"/>
<path d="M264.80,10.77 L266.15,13.32 L263.45,13.32 Z" fill="#4394F0"/>
<path d="M272.10,13.66 L273.45,16.21 L270.75,16.21 Z" fill="#4394F0"/>
<path d="M279.50,16.08 L280.85,18.63 L278.15,18.63 Z" fill="#4394F0"/>
<path d="M286.80,18.08 L288.15,20.63 L285.45,20.63 Z" fill="#4394F0"/>
<path d="M294.10,19.80 L295.45,22.35 L292.75,22.35 Z" fill="#4394F0"/>
<path d="M301.50,21.37 L302.85,23.92 L300.15,23.92 Z" fill="#4394F0"/>
<path d="M308.80,22.77 L310.15,25.32 L307.45,25.32 Z" fill="#4394F0"/>
<path d="M319.80,24.60 L321.15,27.15 L318.45,27.15 Z" fill="#4394F0"/>
<path d="M330.80,26.16 L332.15,28.71 L329.45,28.71 Z" fill="#4394F0"/>
<path d="M338.10,27.06 L339.45,29.61 L336.75,29.61 Z" fill="#4394F0"/>
<path d="M345.40,27.87 L346.75,30.42 L344.05,30.42 Z" fill="#4394F0"/>
<path d="M356.50,28.94 L357.85,31.49 L355.15,31.49 Z" fill="#4394F0"/>
<path d="M367.50,29.86 L368.85,32.41 L366.15,32.41 Z" fill="#4394F0"/>
<path d="M374.90,30.41 L376.25,32.96 L373.55,32.96 Z" fill="#4394F0"/>
<circle cx="114.20" cy="139.20" r="0.90" fill="#5B3FE0"/>
<circle cx="117.88" cy="165.22" r="0.90" fill="#5B3FE0"/>
<circle cx="121.56" cy="188.14" r="0.90" fill="#5B3FE0"/>
<circle cx="125.24" cy="209.91" r="0.90" fill="#5B3FE0"/>
<circle cx="128.92" cy="227.34" r="0.90" fill="#5B3FE0"/>
<g transform="translate(0,-0.5)"><path d="M152.00,-2.76 L152.50,-1.71 L153.00,-0.70 L153.50,0.29 L154.00,1.24 L154.50,2.16 L155.00,3.04 L155.50,3.90 L156.00,4.73 L156.50,5.53 L157.00,6.30 L157.50,7.04 L158.00,7.76 L158.50,8.45 L159.00,9.12 L159.50,9.76 L160.00,10.37 L160.50,10.97 L161.00,11.54 L161.50,12.09 L162.00,12.62 L162.50,13.13 L163.00,13.62 L163.50,14.09 L164.00,14.54 L164.50,14.98 L165.00,15.40 L165.50,15.80 L166.00,16.19 L166.50,16.56 L167.00,16.92 L167.50,17.26 L168.00,17.59 L168.50,17.90 L169.00,18.20 L169.50,18.49 L170.00,18.76 L170.50,19.02 L171.00,19.27 L171.50,19.50 L172.00,19.73 L172.50,19.94 L173.00,20.14 L173.50,20.32 L174.00,20.50 L174.50,20.66 L175.00,20.82 L175.50,20.96 L176.00,21.10 L176.50,21.22 L177.00,21.33 L177.50,21.44 L178.00,21.53 L178.50,21.62 L179.00,21.70 L179.50,21.77 L180.00,21.83 L180.50,21.89 L181.00,21.94 L181.50,21.98 L182.00,22.01 L182.50,22.04 L183.00,22.06 L183.50,22.07 L184.00,22.08 L184.50,22.08 L185.00,22.08 L185.50,22.07 L186.00,22.06 L186.50,22.04 L187.00,22.02 L187.50,21.99 L188.00,21.96 L188.50,21.93 L189.00,21.89 L189.50,21.85 L190.00,21.80 L190.50,21.76 L191.00,21.71 L191.50,21.66 L192.00,21.61 L192.50,21.55 L193.00,21.50 L193.50,21.44 L194.00,21.38 L194.50,21.32 L195.00,21.26 L195.50,21.21 L196.00,21.15 L196.50,21.09 L197.00,21.03 L197.50,20.97 L198.00,20.92 L198.50,20.86 L199.00,20.81 L199.50,20.76 L200.00,20.71 L200.50,20.66 L201.00,20.62 L201.50,20.57 L202.00,20.53 L202.50,20.50 L203.00,20.46 L203.50,20.43 L204.00,20.40 L204.50,20.37 L205.00,20.34 L205.50,20.32 L206.00,20.30 L206.50,20.28 L207.00,20.26 L207.50,20.25 L208.00,20.23 L208.50,20.22 L209.00,20.22 L209.50,20.21 L210.00,20.21 L210.50,20.21 L211.00,20.21 L211.50,20.21 L212.00,20.22 L212.50,20.22 L213.00,20.23 L213.50,20.24 L214.00,20.26 L214.50,20.27 L215.00,20.29 L215.50,20.31 L216.00,20.34 L216.50,20.36 L217.00,20.39 L217.50,20.42 L218.00,20.45 L218.50,20.48 L219.00,20.52 L219.50,20.55 L220.00,20.59 L220.50,20.63 L221.00,20.68 L221.50,20.72 L222.00,20.77 L222.50,20.81 L223.00,20.86 L223.50,20.91 L224.00,20.97 L224.50,21.02 L225.00,21.08 L225.50,21.14 L226.00,21.20 L226.50,21.26 L227.00,21.32 L227.50,21.38 L228.00,21.45 L228.50,21.51 L229.00,21.58 L229.50,21.65 L230.00,21.72 L230.50,21.79 L231.00,21.86 L231.50,21.94 L232.00,22.01 L232.50,22.09 L233.00,22.16 L233.50,22.24 L234.00,22.32 L234.50,22.40 L235.00,22.48 L235.50,22.56 L236.00,22.64 L236.50,22.73 L237.00,22.81 L237.50,22.89 L238.00,22.98 L238.50,23.06 L239.00,23.15 L239.50,23.24 L240.00,23.33 L240.50,23.41 L241.00,23.50 L241.50,23.59 L242.00,23.68 L242.50,23.77 L243.00,23.86 L243.50,23.95 L244.00,24.04 L244.50,24.13 L245.00,24.22 L245.50,24.32 L246.00,24.41 L246.50,24.50 L247.00,24.59 L247.50,24.68 L248.00,24.77 L248.50,24.87 L249.00,24.96 L249.50,25.05 L250.00,25.14 L250.50,25.23 L251.00,25.32 L251.50,25.42 L252.00,25.51 L252.50,25.60 L253.00,25.69 L253.50,25.78 L254.00,25.87 L254.50,25.95 L255.00,26.04 L255.50,26.13 L256.00,26.22 L256.50,26.31 L257.00,26.39 L257.50,26.48 L258.00,26.56 L258.50,26.65 L259.00,26.73 L259.50,26.81 L260.00,26.90 L260.50,26.98 L261.00,27.06 L261.50,27.14 L262.00,27.22 L262.50,27.30 L263.00,27.37 L263.50,27.45 L264.00,27.53 L264.50,27.60 L265.00,27.68 L265.50,27.75 L266.00,27.83 L266.50,27.90 L267.00,27.97 L267.50,28.04 L268.00,28.12 L268.50,28.19 L269.00,28.26 L269.50,28.33 L270.00,28.40 L270.50,28.46 L271.00,28.53 L271.50,28.60 L272.00,28.66 L272.50,28.73 L273.00,28.80 L273.50,28.86 L274.00,28.93 L274.50,28.99 L275.00,29.05 L275.50,29.12 L276.00,29.18 L276.50,29.24 L277.00,29.30 L277.50,29.36 L278.00,29.42 L278.50,29.48 L279.00,29.54 L279.50,29.60 L280.00,29.66 L280.50,29.72 L281.00,29.78 L281.50,29.83 L282.00,29.89 L282.50,29.95 L283.00,30.00 L283.50,30.06 L284.00,30.12 L284.50,30.17 L285.00,30.23 L285.50,30.28 L286.00,30.34 L286.50,30.39 L287.00,30.44 L287.50,30.50 L288.00,30.55 L288.50,30.60 L289.00,30.65 L289.50,30.71 L290.00,30.76 L290.50,30.81 L291.00,30.86 L291.50,30.91 L292.00,30.96 L292.50,31.01 L293.00,31.06 L293.50,31.12 L294.00,31.17 L294.50,31.22 L295.00,31.26 L295.50,31.31 L296.00,31.36 L296.50,31.41 L297.00,31.46 L297.50,31.51 L298.00,31.56 L298.50,31.61 L299.00,31.65 L299.50,31.70 L300.00,31.75 L300.50,31.80 L301.00,31.84 L301.50,31.89 L302.00,31.94 L302.50,31.98 L303.00,32.03 L303.50,32.08 L304.00,32.12 L304.50,32.17 L305.00,32.21 L305.50,32.26 L306.00,32.30 L306.50,32.35 L307.00,32.39 L307.50,32.44 L308.00,32.48 L308.50,32.52 L309.00,32.57 L309.50,32.61 L310.00,32.65 L310.50,32.70 L311.00,32.74 L311.50,32.78 L312.00,32.82 L312.50,32.87 L313.00,32.91 L313.50,32.95 L314.00,32.99 L314.50,33.03 L315.00,33.07 L315.50,33.11 L316.00,33.15 L316.50,33.19 L317.00,33.23 L317.50,33.27 L318.00,33.31 L318.50,33.35 L319.00,33.39 L319.50,33.43 L320.00,33.47 L320.50,33.51 L321.00,33.55 L321.50,33.58 L322.00,33.62 L322.50,33.66 L323.00,33.70 L323.50,33.73 L324.00,33.77 L324.50,33.81 L325.00,33.84 L325.50,33.88 L326.00,33.92 L326.50,33.95 L327.00,33.99 L327.50,34.02 L328.00,34.06 L328.50,34.09 L329.00,34.13 L329.50,34.16 L330.00,34.19 L330.50,34.23 L331.00,34.26 L331.50,34.30 L332.00,34.33 L332.50,34.36 L333.00,34.39 L333.50,34.43 L334.00,34.46 L334.50,34.49 L335.00,34.52 L335.50,34.55 L336.00,34.58 L336.50,34.61 L337.00,34.65 L337.50,34.68 L338.00,34.71 L338.50,34.74 L339.00,34.77 L339.50,34.80 L340.00,34.82 L340.50,34.85 L341.00,34.88 L341.50,34.91 L342.00,34.94 L342.50,34.97 L343.00,34.99 L343.50,35.02 L344.00,35.05 L344.50,35.08 L345.00,35.10 L345.50,35.13 L346.00,35.16 L346.50,35.18 L347.00,35.21 L347.50,35.23 L348.00,35.26 L348.50,35.28 L349.00,35.31 L349.50,35.33 L350.00,35.36 L350.50,35.38 L351.00,35.40 L351.50,35.43 L352.00,35.45 L352.50,35.47 L353.00,35.50 L353.50,35.52 L354.00,35.54 L354.50,35.56 L355.00,35.59 L355.50,35.61 L356.00,35.63 L356.50,35.65 L357.00,35.67 L357.50,35.69 L358.00,35.71 L358.50,35.73 L359.00,35.75 L359.50,35.77 L360.00,35.79 L360.50,35.81 L361.00,35.83 L361.50,35.84 L362.00,35.86 L362.50,35.88 L363.00,35.90 L363.50,35.92 L364.00,35.93 L364.50,35.95 L365.00,35.97 L365.50,35.98 L366.00,36.00 L366.50,36.01 L367.00,36.03 L367.50,36.05 L368.00,36.06 L368.50,36.08 L369.00,36.09 L369.50,36.10 L370.00,36.12 L370.50,36.13 L371.00,36.14 L371.50,36.16 L372.00,36.17 L372.50,36.18 L373.00,36.20 L373.50,36.21 L374.00,36.22 L374.50,36.23 L375.00,36.24 L375.50,36.25 L376.00,36.26 L376.50,36.27 L377.00,36.28 L377.50,36.29 L378.00,36.30" fill="none" stroke="#E69F00" stroke-width="0.60" stroke-linejoin="round"/></g>
<path d="M129.20,-4.99 L129.70,-1.59 L130.20,1.71 L130.70,4.93 L131.20,8.05 L131.70,11.09 L132.20,14.04 L132.70,16.91 L133.20,19.71 L133.70,22.44 L134.20,25.09 L134.70,27.68 L135.20,30.20 L135.70,32.67 L136.20,35.08 L136.70,37.43 L137.20,39.73 L137.70,41.99 L138.20,44.20 L138.70,46.37 L139.20,48.50 L139.70,50.60 L140.20,52.67 L140.70,54.71 L141.20,56.72 L141.70,58.70 L142.20,60.65 L142.70,62.58 L143.20,64.47 L143.70,66.34 L144.20,68.17 L144.70,69.98 L145.20,71.76 L145.70,73.50 L146.20,75.22 L146.70,76.91 L147.20,78.56 L147.70,80.19 L148.20,81.79 L148.70,83.35 L149.20,84.88 L149.70,86.38 L150.20,87.85 L150.70,89.29 L151.20,90.70 L151.70,92.07 L152.20,93.41 L152.70,94.72 L153.20,96.00 L153.70,97.24 L154.20,98.45 L154.70,99.63 L155.20,100.77 L155.70,101.88 L156.20,102.96 L156.70,104.00 L157.20,105.01 L157.70,105.98 L158.20,106.92 L158.70,107.82 L159.20,108.69 L159.70,109.53 L160.20,110.34 L160.70,111.12 L161.20,111.88 L161.70,112.60 L162.20,113.30 L162.70,113.98 L163.20,114.63 L163.70,115.26 L164.20,115.87 L164.70,116.46 L165.20,117.03 L165.70,117.59 L166.20,118.12 L166.70,118.65 L167.20,119.16 L167.70,119.65 L168.20,120.13 L168.70,120.60 L169.20,121.06 L169.70,121.50 L170.20,121.92 L170.70,122.33 L171.20,122.73 L171.70,123.12 L172.20,123.49 L172.70,123.85 L173.20,124.20 L173.70,124.53 L174.20,124.85 L174.70,125.16 L175.20,125.45 L175.70,125.74 L176.20,126.01 L176.70,126.27 L177.20,126.51 L177.70,126.75 L178.20,126.97 L178.70,127.18 L179.20,127.38 L179.70,127.57 L180.20,127.74 L180.70,127.91 L181.20,128.06 L181.70,128.21 L182.20,128.34 L182.70,128.46 L183.20,128.57 L183.70,128.67 L184.20,128.76 L184.70,128.84 L185.20,128.91 L185.70,128.97 L186.20,129.02 L186.70,129.06 L187.20,129.09 L187.70,129.12 L188.20,129.13 L188.70,129.13 L189.20,129.13 L189.70,129.12 L190.20,129.09 L190.70,129.06 L191.20,129.03 L191.70,128.98 L192.20,128.93 L192.70,128.86 L193.20,128.79 L193.70,128.72 L194.20,128.63 L194.70,128.54 L195.20,128.44 L195.70,128.34 L196.20,128.22 L196.70,128.11 L197.20,127.98 L197.70,127.85 L198.20,127.71 L198.70,127.57 L199.20,127.42 L199.70,127.26 L200.20,127.10 L200.70,126.93 L201.20,126.76 L201.70,126.58 L202.20,126.40 L202.70,126.21 L203.20,126.02 L203.70,125.82 L204.20,125.62 L204.70,125.41 L205.20,125.20 L205.70,124.99 L206.20,124.77 L206.70,124.55 L207.20,124.33 L207.70,124.10 L208.20,123.87 L208.70,123.63 L209.20,123.39 L209.70,123.15 L210.20,122.91 L210.70,122.66 L211.20,122.41 L211.70,122.16 L212.20,121.91 L212.70,121.65 L213.20,121.39 L213.70,121.13 L214.20,120.87 L214.70,120.61 L215.20,120.34 L215.70,120.07 L216.20,119.80 L216.70,119.53 L217.20,119.26 L217.70,118.98 L218.20,118.70 L218.70,118.42 L219.20,118.14 L219.70,117.86 L220.20,117.58 L220.70,117.29 L221.20,117.01 L221.70,116.72 L222.20,116.43 L222.70,116.14 L223.20,115.85 L223.70,115.56 L224.20,115.26 L224.70,114.97 L225.20,114.67 L225.70,114.38 L226.20,114.08 L226.70,113.78 L227.20,113.48 L227.70,113.19 L228.20,112.89 L228.70,112.59 L229.20,112.29 L229.70,111.98 L230.20,111.68 L230.70,111.38 L231.20,111.08 L231.70,110.78 L232.20,110.47 L232.70,110.17 L233.20,109.87 L233.70,109.56 L234.20,109.26 L234.70,108.96 L235.20,108.66 L235.70,108.35 L236.20,108.05 L236.70,107.75 L237.20,107.45 L237.70,107.15 L238.20,106.85 L238.70,106.55 L239.20,106.25 L239.70,105.95 L240.20,105.65 L240.70,105.35 L241.20,105.06 L241.70,104.76 L242.20,104.47 L242.70,104.17 L243.20,103.88 L243.70,103.59 L244.20,103.30 L244.70,103.01 L245.20,102.72 L245.70,102.43 L246.20,102.14 L246.70,101.86 L247.20,101.57 L247.70,101.29 L248.20,101.00 L248.70,100.72 L249.20,100.44 L249.70,100.16 L250.20,99.88 L250.70,99.60 L251.20,99.32 L251.70,99.05 L252.20,98.77 L252.70,98.50 L253.20,98.22 L253.70,97.95 L254.20,97.68 L254.70,97.41 L255.20,97.14 L255.70,96.87 L256.20,96.60 L256.70,96.33 L257.20,96.06 L257.70,95.80 L258.20,95.53 L258.70,95.27 L259.20,95.01 L259.70,94.74 L260.20,94.48 L260.70,94.22 L261.20,93.96 L261.70,93.70 L262.20,93.44 L262.70,93.19 L263.20,92.93 L263.70,92.67 L264.20,92.42 L264.70,92.16 L265.20,91.91 L265.70,91.66 L266.20,91.40 L266.70,91.15 L267.20,90.90 L267.70,90.65 L268.20,90.41 L268.70,90.16 L269.20,89.91 L269.70,89.66 L270.20,89.42 L270.70,89.17 L271.20,88.93 L271.70,88.69 L272.20,88.44 L272.70,88.20 L273.20,87.96 L273.70,87.72 L274.20,87.48 L274.70,87.24 L275.20,87.00 L275.70,86.76 L276.20,86.53 L276.70,86.29 L277.20,86.06 L277.70,85.82 L278.20,85.59 L278.70,85.35 L279.20,85.12 L279.70,84.89 L280.20,84.66 L280.70,84.43 L281.20,84.20 L281.70,83.97 L282.20,83.74 L282.70,83.51 L283.20,83.28 L283.70,83.06 L284.20,82.83 L284.70,82.61 L285.20,82.38 L285.70,82.16 L286.20,81.93 L286.70,81.71 L287.20,81.49 L287.70,81.27 L288.20,81.05 L288.70,80.83 L289.20,80.61 L289.70,80.39 L290.20,80.18 L290.70,79.96 L291.20,79.75 L291.70,79.53 L292.20,79.32 L292.70,79.11 L293.20,78.89 L293.70,78.68 L294.20,78.47 L294.70,78.26 L295.20,78.05 L295.70,77.84 L296.20,77.64 L296.70,77.43 L297.20,77.23 L297.70,77.02 L298.20,76.82 L298.70,76.61 L299.20,76.41 L299.70,76.21 L300.20,76.01 L300.70,75.81 L301.20,75.61 L301.70,75.41 L302.20,75.22 L302.70,75.02 L303.20,74.83 L303.70,74.63 L304.20,74.44 L304.70,74.25 L305.20,74.05 L305.70,73.86 L306.20,73.67 L306.70,73.49 L307.20,73.30 L307.70,73.11 L308.20,72.92 L308.70,72.74 L309.20,72.56 L309.70,72.37 L310.20,72.19 L310.70,72.01 L311.20,71.83 L311.70,71.65 L312.20,71.47 L312.70,71.29 L313.20,71.12 L313.70,70.94 L314.20,70.77 L314.70,70.60 L315.20,70.42 L315.70,70.25 L316.20,70.08 L316.70,69.91 L317.20,69.75 L317.70,69.58 L318.20,69.41 L318.70,69.25 L319.20,69.08 L319.70,68.92 L320.20,68.76 L320.70,68.60 L321.20,68.44 L321.70,68.28 L322.20,68.12 L322.70,67.97 L323.20,67.81 L323.70,67.66 L324.20,67.50 L324.70,67.35 L325.20,67.20 L325.70,67.05 L326.20,66.90 L326.70,66.75 L327.20,66.61 L327.70,66.46 L328.20,66.32 L328.70,66.17 L329.20,66.03 L329.70,65.89 L330.20,65.75 L330.70,65.61 L331.20,65.48 L331.70,65.34 L332.20,65.21 L332.70,65.07 L333.20,64.94 L333.70,64.81 L334.20,64.68 L334.70,64.55 L335.20,64.42 L335.70,64.29 L336.20,64.17 L336.70,64.04 L337.20,63.92 L337.70,63.80 L338.20,63.68 L338.70,63.56 L339.20,63.44 L339.70,63.33 L340.20,63.21 L340.70,63.10 L341.20,62.98 L341.70,62.87 L342.20,62.76 L342.70,62.65 L343.20,62.54 L343.70,62.44 L344.20,62.33 L344.70,62.23 L345.20,62.12 L345.70,62.02 L346.20,61.92 L346.70,61.82 L347.20,61.73 L347.70,61.63 L348.20,61.54 L348.70,61.44 L349.20,61.35 L349.70,61.26 L350.20,61.17 L350.70,61.08 L351.20,60.99 L351.70,60.91 L352.20,60.82 L352.70,60.74 L353.20,60.66 L353.70,60.58 L354.20,60.50 L354.70,60.42 L355.20,60.35 L355.70,60.27 L356.20,60.20 L356.70,60.13 L357.20,60.06 L357.70,59.99 L358.20,59.92 L358.70,59.86 L359.20,59.79 L359.70,59.73 L360.20,59.67 L360.70,59.61 L361.20,59.55 L361.70,59.49 L362.20,59.44 L362.70,59.38 L363.20,59.33 L363.70,59.28 L364.20,59.23 L364.70,59.18 L365.20,59.13 L365.70,59.09 L366.20,59.04 L366.70,59.00 L367.20,58.96 L367.70,58.92 L368.20,58.88 L368.70,58.85 L369.20,58.81 L369.70,58.78 L370.20,58.75 L370.70,58.72 L371.20,58.69 L371.70,58.66 L372.20,58.64 L372.70,58.61 L373.20,58.59 L373.70,58.57 L374.20,58.55 L374.70,58.53 L375.20,58.52 L375.70,58.50 L376.20,58.49 L376.70,58.48 L377.20,58.47 L377.70,58.46 L378.00,58.46" fill="none" stroke="#E5402C" stroke-width="0.85" stroke-linejoin="round"/>
<path d="M132.60,14.75 L134.04,17.47 L131.16,17.47 Z" fill="none" stroke="#E5402C" stroke-width="0.40"/>
<path d="M136.28,33.86 L137.72,36.58 L134.84,36.58 Z" fill="none" stroke="#E5402C" stroke-width="0.40"/>
<path d="M139.96,50.08 L141.40,52.80 L138.52,52.80 Z" fill="none" stroke="#E5402C" stroke-width="0.40"/>
<path d="M143.64,64.51 L145.08,67.23 L142.20,67.23 Z" fill="none" stroke="#E5402C" stroke-width="0.40"/>
<path d="M147.32,77.36 L148.76,80.08 L145.88,80.08 Z" fill="none" stroke="#E5402C" stroke-width="0.40"/>
<path d="M151.00,88.54 L152.44,91.26 L149.56,91.26 Z" fill="none" stroke="#E5402C" stroke-width="0.40"/>
<path d="M154.68,97.98 L156.12,100.70 L153.24,100.70 Z" fill="none" stroke="#E5402C" stroke-width="0.40"/>
<path d="M158.36,105.61 L159.80,108.33 L156.92,108.33 Z" fill="none" stroke="#E5402C" stroke-width="0.40"/>
<path d="M162.04,111.48 L163.48,114.20 L160.60,114.20 Z" fill="none" stroke="#E5402C" stroke-width="0.40"/>
<path d="M165.72,116.01 L167.16,118.73 L164.28,118.73 Z" fill="none" stroke="#E5402C" stroke-width="0.40"/>
<path d="M169.40,119.63 L170.84,122.35 L167.96,122.35 Z" fill="none" stroke="#E5402C" stroke-width="0.40"/>
<path d="M173.08,122.51 L174.52,125.23 L171.64,125.23 Z" fill="none" stroke="#E5402C" stroke-width="0.40"/>
<path d="M176.76,124.70 L178.20,127.42 L175.32,127.42 Z" fill="none" stroke="#E5402C" stroke-width="0.40"/>
<path d="M180.44,126.22 L181.88,128.94 L179.00,128.94 Z" fill="none" stroke="#E5402C" stroke-width="0.40"/>
<path d="M184.12,127.15 L185.56,129.87 L182.68,129.87 Z" fill="none" stroke="#E5402C" stroke-width="0.40"/>
<path d="M187.80,127.52 L189.24,130.24 L186.36,130.24 Z" fill="none" stroke="#E5402C" stroke-width="0.40"/>
<path d="M191.48,127.40 L192.92,130.12 L190.04,130.12 Z" fill="none" stroke="#E5402C" stroke-width="0.40"/>
<path d="M195.16,126.85 L196.60,129.57 L193.72,129.57 Z" fill="none" stroke="#E5402C" stroke-width="0.40"/>
<path d="M198.84,125.92 L200.28,128.64 L197.40,128.64 Z" fill="none" stroke="#E5402C" stroke-width="0.40"/>
<path d="M202.52,124.68 L203.96,127.40 L201.08,127.40 Z" fill="none" stroke="#E5402C" stroke-width="0.40"/>
<path d="M206.20,123.17 L207.64,125.89 L204.76,125.89 Z" fill="none" stroke="#E5402C" stroke-width="0.40"/>
<path d="M209.88,121.46 L211.32,124.18 L208.44,124.18 Z" fill="none" stroke="#E5402C" stroke-width="0.40"/>
<path d="M213.56,119.61 L215.00,122.33 L212.12,122.33 Z" fill="none" stroke="#E5402C" stroke-width="0.40"/>
<path d="M217.24,117.63 L218.68,120.35 L215.80,120.35 Z" fill="none" stroke="#E5402C" stroke-width="0.40"/>
<path d="M220.92,115.57 L222.36,118.29 L219.48,118.29 Z" fill="none" stroke="#E5402C" stroke-width="0.40"/>
<path d="M224.60,113.43 L226.04,116.15 L223.16,116.15 Z" fill="none" stroke="#E5402C" stroke-width="0.40"/>
<path d="M228.28,111.24 L229.72,113.96 L226.84,113.96 Z" fill="none" stroke="#E5402C" stroke-width="0.40"/>
<path d="M235.50,106.88 L236.94,109.60 L234.06,109.60 Z" fill="none" stroke="#E5402C" stroke-width="0.40"/>
<path d="M242.80,102.51 L244.24,105.23 L241.36,105.23 Z" fill="none" stroke="#E5402C" stroke-width="0.40"/>
<path d="M250.10,98.34 L251.54,101.06 L248.66,101.06 Z" fill="none" stroke="#E5402C" stroke-width="0.40"/>
<path d="M257.50,94.30 L258.94,97.02 L256.06,97.02 Z" fill="none" stroke="#E5402C" stroke-width="0.40"/>
<path d="M264.80,90.51 L266.24,93.23 L263.36,93.23 Z" fill="none" stroke="#E5402C" stroke-width="0.40"/>
<path d="M272.10,86.89 L273.54,89.61 L270.66,89.61 Z" fill="none" stroke="#E5402C" stroke-width="0.40"/>
<path d="M279.50,83.38 L280.94,86.10 L278.06,86.10 Z" fill="none" stroke="#E5402C" stroke-width="0.40"/>
<path d="M286.80,80.07 L288.24,82.79 L285.36,82.79 Z" fill="none" stroke="#E5402C" stroke-width="0.40"/>
<path d="M294.10,76.91 L295.54,79.63 L292.66,79.63 Z" fill="none" stroke="#E5402C" stroke-width="0.40"/>
<path d="M301.50,73.89 L302.94,76.61 L300.06,76.61 Z" fill="none" stroke="#E5402C" stroke-width="0.40"/>
<path d="M308.80,71.10 L310.24,73.82 L307.36,73.82 Z" fill="none" stroke="#E5402C" stroke-width="0.40"/>
<path d="M319.80,67.29 L321.24,70.01 L318.36,70.01 Z" fill="none" stroke="#E5402C" stroke-width="0.40"/>
<path d="M330.80,63.99 L332.24,66.71 L329.36,66.71 Z" fill="none" stroke="#E5402C" stroke-width="0.40"/>
<path d="M338.10,62.10 L339.54,64.82 L336.66,64.82 Z" fill="none" stroke="#E5402C" stroke-width="0.40"/>
<path d="M345.40,60.48 L346.84,63.20 L343.96,63.20 Z" fill="none" stroke="#E5402C" stroke-width="0.40"/>
<path d="M356.50,58.56 L357.94,61.28 L355.06,61.28 Z" fill="none" stroke="#E5402C" stroke-width="0.40"/>
<path d="M367.50,57.34 L368.94,60.06 L366.06,60.06 Z" fill="none" stroke="#E5402C" stroke-width="0.40"/>
<path d="M374.90,56.93 L376.34,59.65 L373.46,59.65 Z" fill="none" stroke="#E5402C" stroke-width="0.40"/>
<path d="M152.00,-2.76 L152.50,-1.71 L153.00,-0.70 L153.50,0.29 L154.00,1.24 L154.50,2.16 L155.00,3.04 L155.50,3.90 L156.00,4.73 L156.50,5.53 L157.00,6.30 L157.50,7.04 L158.00,7.76 L158.50,8.45 L159.00,9.12 L159.50,9.76 L160.00,10.37 L160.50,10.97 L161.00,11.54 L161.50,12.09 L162.00,12.62 L162.50,13.13 L163.00,13.62 L163.50,14.09 L164.00,14.54 L164.50,14.98 L165.00,15.40 L165.50,15.80 L166.00,16.19 L166.50,16.56 L167.00,16.92 L167.50,17.26 L168.00,17.59 L168.50,17.90 L169.00,18.20 L169.50,18.49 L170.00,18.76 L170.50,19.02 L171.00,19.27 L171.50,19.50 L172.00,19.73 L172.50,19.94 L173.00,20.14 L173.50,20.32 L174.00,20.50 L174.50,20.66 L175.00,20.82 L175.50,20.96 L176.00,21.10 L176.50,21.22 L177.00,21.33 L177.50,21.44 L178.00,21.53 L178.50,21.62 L179.00,21.70 L179.50,21.77 L180.00,21.83 L180.50,21.89 L181.00,21.94 L181.50,21.98 L182.00,22.01 L182.50,22.04 L183.00,22.06 L183.50,22.07 L184.00,22.08 L184.50,22.08 L185.00,22.08 L185.50,22.07 L186.00,22.06 L186.50,22.04 L187.00,22.02 L187.50,21.99 L188.00,21.96 L188.50,21.93 L189.00,21.89 L189.50,21.85 L190.00,21.80 L190.50,21.76 L191.00,21.71 L191.50,21.66 L192.00,21.61 L192.50,21.55 L193.00,21.50 L193.50,21.44 L194.00,21.38 L194.50,21.32 L195.00,21.26 L195.50,21.21 L196.00,21.15 L196.50,21.09 L197.00,21.03 L197.50,20.97 L198.00,20.92 L198.50,20.86 L199.00,20.81 L199.50,20.76 L200.00,20.71 L200.50,20.66 L201.00,20.62 L201.50,20.57 L202.00,20.53 L202.50,20.50 L203.00,20.46 L203.50,20.43 L204.00,20.40 L204.50,20.37 L205.00,20.34 L205.50,20.32 L206.00,20.30 L206.50,20.28 L207.00,20.26 L207.50,20.25 L208.00,20.23 L208.50,20.22 L209.00,20.22 L209.50,20.21 L210.00,20.21 L210.50,20.21 L211.00,20.21 L211.50,20.21 L212.00,20.22 L212.50,20.22 L213.00,20.23 L213.50,20.24 L214.00,20.26 L214.50,20.27 L215.00,20.29 L215.50,20.31 L216.00,20.34 L216.50,20.36 L217.00,20.39 L217.50,20.42 L218.00,20.45 L218.50,20.48 L219.00,20.52 L219.50,20.55 L220.00,20.59 L220.50,20.63 L221.00,20.68 L221.50,20.72 L222.00,20.77 L222.50,20.81 L223.00,20.86 L223.50,20.91 L224.00,20.97 L224.50,21.02 L225.00,21.08 L225.50,21.14 L226.00,21.20 L226.50,21.26 L227.00,21.32 L227.50,21.38 L228.00,21.45 L228.50,21.51 L229.00,21.58 L229.50,21.65 L230.00,21.72 L230.50,21.79 L231.00,21.86 L231.50,21.94 L232.00,22.01 L232.50,22.09 L233.00,22.16 L233.50,22.24 L234.00,22.32 L234.50,22.40 L235.00,22.48 L235.50,22.56 L236.00,22.64 L236.50,22.73 L237.00,22.81 L237.50,22.89 L238.00,22.98 L238.50,23.06 L239.00,23.15 L239.50,23.24 L240.00,23.33 L240.50,23.41 L241.00,23.50 L241.50,23.59 L242.00,23.68 L242.50,23.77 L243.00,23.86 L243.50,23.95 L244.00,24.04 L244.50,24.13 L245.00,24.22 L245.50,24.32 L246.00,24.41 L246.50,24.50 L247.00,24.59 L247.50,24.68 L248.00,24.77 L248.50,24.87 L249.00,24.96 L249.50,25.05 L250.00,25.14 L250.50,25.23 L251.00,25.32 L251.50,25.42 L252.00,25.51 L252.50,25.60 L253.00,25.69 L253.50,25.78 L254.00,25.87 L254.50,25.95 L255.00,26.04 L255.50,26.13 L256.00,26.22 L256.50,26.31 L257.00,26.39 L257.50,26.48 L258.00,26.56 L258.50,26.65 L259.00,26.73 L259.50,26.81 L260.00,26.90 L260.50,26.98 L261.00,27.06 L261.50,27.14 L262.00,27.22 L262.50,27.30 L263.00,27.37 L263.50,27.45 L264.00,27.53 L264.50,27.60 L265.00,27.68 L265.50,27.75 L266.00,27.83 L266.50,27.90 L267.00,27.97 L267.50,28.04 L268.00,28.12 L268.50,28.19 L269.00,28.26 L269.50,28.33 L270.00,28.40 L270.50,28.46 L271.00,28.53 L271.50,28.60 L272.00,28.66 L272.50,28.73 L273.00,28.80 L273.50,28.86 L274.00,28.93 L274.50,28.99 L275.00,29.05 L275.50,29.12 L276.00,29.18 L276.50,29.24 L277.00,29.30 L277.50,29.36 L278.00,29.42 L278.50,29.48 L279.00,29.54 L279.50,29.60 L280.00,29.66 L280.50,29.72 L281.00,29.78 L281.50,29.83 L282.00,29.89 L282.50,29.95 L283.00,30.00 L283.50,30.06 L284.00,30.12 L284.50,30.17 L285.00,30.23 L285.50,30.28 L286.00,30.34 L286.50,30.39 L287.00,30.44 L287.50,30.50 L288.00,30.55 L288.50,30.60 L289.00,30.65 L289.50,30.71 L290.00,30.76 L290.50,30.81 L291.00,30.86 L291.50,30.91 L292.00,30.96 L292.50,31.01 L293.00,31.06 L293.50,31.12 L294.00,31.17 L294.50,31.22 L295.00,31.26 L295.50,31.31 L296.00,31.36 L296.50,31.41 L297.00,31.46 L297.50,31.51 L298.00,31.56 L298.50,31.61 L299.00,31.65 L299.50,31.70 L300.00,31.75 L300.50,31.80 L301.00,31.84 L301.50,31.89 L302.00,31.94 L302.50,31.98 L303.00,32.03 L303.50,32.08 L304.00,32.12 L304.50,32.17 L305.00,32.21 L305.50,32.26 L306.00,32.30 L306.50,32.35 L307.00,32.39 L307.50,32.44 L308.00,32.48 L308.50,32.52 L309.00,32.57 L309.50,32.61 L310.00,32.65 L310.50,32.70 L311.00,32.74 L311.50,32.78 L312.00,32.82 L312.50,32.87 L313.00,32.91 L313.50,32.95 L314.00,32.99 L314.50,33.03 L315.00,33.07 L315.50,33.11 L316.00,33.15 L316.50,33.19 L317.00,33.23 L317.50,33.27 L318.00,33.31 L318.50,33.35 L319.00,33.39 L319.50,33.43 L320.00,33.47 L320.50,33.51 L321.00,33.55 L321.50,33.58 L322.00,33.62 L322.50,33.66 L323.00,33.70 L323.50,33.73 L324.00,33.77 L324.50,33.81 L325.00,33.84 L325.50,33.88 L326.00,33.92 L326.50,33.95 L327.00,33.99 L327.50,34.02 L328.00,34.06 L328.50,34.09 L329.00,34.13 L329.50,34.16 L330.00,34.19 L330.50,34.23 L331.00,34.26 L331.50,34.30 L332.00,34.33 L332.50,34.36 L333.00,34.39 L333.50,34.43 L334.00,34.46 L334.50,34.49 L335.00,34.52 L335.50,34.55 L336.00,34.58 L336.50,34.61 L337.00,34.65 L337.50,34.68 L338.00,34.71 L338.50,34.74 L339.00,34.77 L339.50,34.80 L340.00,34.82 L340.50,34.85 L341.00,34.88 L341.50,34.91 L342.00,34.94 L342.50,34.97 L343.00,34.99 L343.50,35.02 L344.00,35.05 L344.50,35.08 L345.00,35.10 L345.50,35.13 L346.00,35.16 L346.50,35.18 L347.00,35.21 L347.50,35.23 L348.00,35.26 L348.50,35.28 L349.00,35.31 L349.50,35.33 L350.00,35.36 L350.50,35.38 L351.00,35.40 L351.50,35.43 L352.00,35.45 L352.50,35.47 L353.00,35.50 L353.50,35.52 L354.00,35.54 L354.50,35.56 L355.00,35.59 L355.50,35.61 L356.00,35.63 L356.50,35.65 L357.00,35.67 L357.50,35.69 L358.00,35.71 L358.50,35.73 L359.00,35.75 L359.50,35.77 L360.00,35.79 L360.50,35.81 L361.00,35.83 L361.50,35.84 L362.00,35.86 L362.50,35.88 L363.00,35.90 L363.50,35.92 L364.00,35.93 L364.50,35.95 L365.00,35.97 L365.50,35.98 L366.00,36.00 L366.50,36.01 L367.00,36.03 L367.50,36.05 L368.00,36.06 L368.50,36.08 L369.00,36.09 L369.50,36.10 L370.00,36.12 L370.50,36.13 L371.00,36.14 L371.50,36.16 L372.00,36.17 L372.50,36.18 L373.00,36.20 L373.50,36.21 L374.00,36.22 L374.50,36.23 L375.00,36.24 L375.50,36.25 L376.00,36.26 L376.50,36.27 L377.00,36.28 L377.50,36.29 L378.00,36.30" fill="none" stroke="#E5402C" stroke-width="0.85" stroke-linejoin="round"/>
<path d="M158.36,6.66 L159.80,9.38 L156.92,9.38 Z" fill="none" stroke="#E5402C" stroke-width="0.40"/>
<path d="M162.04,11.06 L163.48,13.78 L160.60,13.78 Z" fill="none" stroke="#E5402C" stroke-width="0.40"/>
<path d="M165.72,14.37 L167.16,17.09 L164.28,17.09 Z" fill="none" stroke="#E5402C" stroke-width="0.40"/>
<path d="M169.40,16.83 L170.84,19.55 L167.96,19.55 Z" fill="none" stroke="#E5402C" stroke-width="0.40"/>
<path d="M173.08,18.57 L174.52,21.29 L171.64,21.29 Z" fill="none" stroke="#E5402C" stroke-width="0.40"/>
<path d="M176.76,19.68 L178.20,22.40 L175.32,22.40 Z" fill="none" stroke="#E5402C" stroke-width="0.40"/>
<path d="M180.44,20.28 L181.88,23.00 L179.00,23.00 Z" fill="none" stroke="#E5402C" stroke-width="0.40"/>
<path d="M184.12,20.48 L185.56,23.20 L182.68,23.20 Z" fill="none" stroke="#E5402C" stroke-width="0.40"/>
<path d="M187.80,20.37 L189.24,23.09 L186.36,23.09 Z" fill="none" stroke="#E5402C" stroke-width="0.40"/>
<path d="M191.48,20.06 L192.92,22.78 L190.04,22.78 Z" fill="none" stroke="#E5402C" stroke-width="0.40"/>
<path d="M195.16,19.65 L196.60,22.37 L193.72,22.37 Z" fill="none" stroke="#E5402C" stroke-width="0.40"/>
<path d="M198.84,19.23 L200.28,21.95 L197.40,21.95 Z" fill="none" stroke="#E5402C" stroke-width="0.40"/>
<path d="M202.52,18.90 L203.96,21.62 L201.08,21.62 Z" fill="none" stroke="#E5402C" stroke-width="0.40"/>
<path d="M206.20,18.69 L207.64,21.41 L204.76,21.41 Z" fill="none" stroke="#E5402C" stroke-width="0.40"/>
<path d="M209.88,18.61 L211.32,21.33 L208.44,21.33 Z" fill="none" stroke="#E5402C" stroke-width="0.40"/>
<path d="M213.56,18.65 L215.00,21.37 L212.12,21.37 Z" fill="none" stroke="#E5402C" stroke-width="0.40"/>
<path d="M217.24,18.80 L218.68,21.52 L215.80,21.52 Z" fill="none" stroke="#E5402C" stroke-width="0.40"/>
<path d="M220.92,19.07 L222.36,21.79 L219.48,21.79 Z" fill="none" stroke="#E5402C" stroke-width="0.40"/>
<path d="M224.60,19.43 L226.04,22.15 L223.16,22.15 Z" fill="none" stroke="#E5402C" stroke-width="0.40"/>
<path d="M228.28,19.88 L229.72,22.60 L226.84,22.60 Z" fill="none" stroke="#E5402C" stroke-width="0.40"/>
<path d="M235.50,20.96 L236.94,23.68 L234.06,23.68 Z" fill="none" stroke="#E5402C" stroke-width="0.40"/>
<path d="M242.80,22.22 L244.24,24.94 L241.36,24.94 Z" fill="none" stroke="#E5402C" stroke-width="0.40"/>
<path d="M250.10,23.56 L251.54,26.28 L248.66,26.28 Z" fill="none" stroke="#E5402C" stroke-width="0.40"/>
<path d="M257.50,24.88 L258.94,27.60 L256.06,27.60 Z" fill="none" stroke="#E5402C" stroke-width="0.40"/>
<path d="M264.80,26.05 L266.24,28.77 L263.36,28.77 Z" fill="none" stroke="#E5402C" stroke-width="0.40"/>
<path d="M272.10,27.08 L273.54,29.80 L270.66,29.80 Z" fill="none" stroke="#E5402C" stroke-width="0.40"/>
<path d="M279.50,28.00 L280.94,30.72 L278.06,30.72 Z" fill="none" stroke="#E5402C" stroke-width="0.40"/>
<path d="M286.80,28.82 L288.24,31.54 L285.36,31.54 Z" fill="none" stroke="#E5402C" stroke-width="0.40"/>
<path d="M294.10,29.58 L295.54,32.30 L292.66,32.30 Z" fill="none" stroke="#E5402C" stroke-width="0.40"/>
<path d="M301.50,30.29 L302.94,33.01 L300.06,33.01 Z" fill="none" stroke="#E5402C" stroke-width="0.40"/>
<path d="M308.80,30.95 L310.24,33.67 L307.36,33.67 Z" fill="none" stroke="#E5402C" stroke-width="0.40"/>
<path d="M319.80,31.85 L321.24,34.57 L318.36,34.57 Z" fill="none" stroke="#E5402C" stroke-width="0.40"/>
<path d="M330.80,32.65 L332.24,35.37 L329.36,35.37 Z" fill="none" stroke="#E5402C" stroke-width="0.40"/>
<path d="M338.10,33.11 L339.54,35.83 L336.66,35.83 Z" fill="none" stroke="#E5402C" stroke-width="0.40"/>
<path d="M345.40,33.52 L346.84,36.24 L343.96,36.24 Z" fill="none" stroke="#E5402C" stroke-width="0.40"/>
<path d="M356.50,34.05 L357.94,36.77 L355.06,36.77 Z" fill="none" stroke="#E5402C" stroke-width="0.40"/>
<path d="M367.50,34.45 L368.94,37.17 L366.06,37.17 Z" fill="none" stroke="#E5402C" stroke-width="0.40"/>
<path d="M374.90,34.64 L376.34,37.36 L373.46,37.36 Z" fill="none" stroke="#E5402C" stroke-width="0.40"/>
<path d="M114.20,113.09 L114.70,116.24 L115.20,119.33 L115.70,122.35 L116.20,125.31 L116.70,128.21 L117.20,131.05 L117.70,133.82 L118.20,136.54 L118.70,139.19 L119.20,141.79 L119.70,144.33 L120.20,146.81 L120.70,149.23 L121.20,151.60 L121.70,153.92 L122.20,156.18 L122.70,158.38 L123.20,160.53 L123.70,162.63 L124.20,164.68 L124.70,166.68 L125.20,168.62 L125.70,170.52 L126.20,172.37 L126.70,174.17 L127.20,175.92 L127.70,177.63 L128.20,179.29 L128.70,180.90 L129.20,182.47 L129.70,184.00 L130.20,185.48 L130.70,186.92 L131.20,188.32 L131.70,189.67 L132.20,190.99 L132.70,192.27 L133.20,193.51 L133.70,194.70 L134.20,195.86 L134.70,196.99 L135.20,198.07 L135.70,199.12 L136.20,200.14 L136.70,201.11 L137.20,202.05 L137.70,202.96 L138.20,203.83 L138.70,204.67 L139.20,205.47 L139.70,206.24 L140.20,206.98 L140.70,207.69 L141.20,208.36 L141.70,209.00 L142.20,209.61 L142.70,210.19 L143.20,210.75 L143.70,211.27 L144.20,211.76 L144.70,212.22 L145.20,212.66 L145.70,213.06 L146.20,213.44 L146.70,213.79 L147.20,214.12 L147.70,214.42 L148.20,214.69 L148.70,214.94 L149.20,215.16 L149.70,215.36 L150.20,215.54 L150.70,215.69 L151.20,215.82 L151.70,215.93 L152.20,216.01 L152.70,216.08 L153.20,216.12 L153.70,216.14 L154.20,216.14 L154.70,216.12 L155.20,216.08 L155.70,216.02 L156.20,215.95 L156.70,215.85 L157.20,215.74 L157.70,215.61 L158.20,215.46 L158.70,215.29 L159.20,215.11 L159.70,214.91 L160.20,214.69 L160.70,214.46 L161.20,214.21 L161.70,213.94 L162.20,213.66 L162.70,213.37 L163.20,213.06 L163.70,212.73 L164.20,212.39 L164.70,212.04 L165.20,211.67 L165.70,211.28 L166.20,210.89 L166.70,210.48 L167.20,210.06 L167.70,209.62 L168.20,209.18 L168.70,208.72 L169.20,208.25 L169.70,207.77 L170.20,207.27 L170.70,206.77 L171.20,206.26 L171.70,205.73 L172.20,205.19 L172.70,204.65 L173.20,204.09 L173.70,203.53 L174.20,202.96 L174.70,202.37 L175.20,201.78 L175.70,201.18 L176.20,200.58 L176.70,199.96 L177.20,199.34 L177.70,198.71 L178.20,198.07 L178.70,197.43 L179.20,196.78 L179.70,196.12 L180.20,195.46 L180.70,194.79 L181.20,194.11 L181.70,193.43 L182.20,192.74 L182.70,192.05 L183.20,191.35 L183.70,190.64 L184.20,189.93 L184.70,189.22 L185.20,188.50 L185.70,187.77 L186.20,187.04 L186.70,186.31 L187.20,185.57 L187.70,184.83 L188.20,184.09 L188.70,183.34 L189.20,182.59 L189.70,181.83 L190.20,181.07 L190.70,180.31 L191.20,179.54 L191.70,178.78 L192.20,178.00 L192.70,177.23 L193.20,176.46 L193.70,175.68 L194.20,174.90 L194.70,174.12 L195.20,173.34 L195.70,172.55 L196.20,171.77 L196.70,170.98 L197.20,170.19 L197.70,169.41 L198.20,168.62 L198.70,167.83 L199.20,167.04 L199.70,166.25 L200.20,165.46 L200.70,164.67 L201.20,163.88 L201.70,163.09 L202.20,162.29 L202.70,161.50 L203.20,160.71 L203.70,159.92 L204.20,159.13 L204.70,158.34 L205.20,157.55 L205.70,156.76 L206.20,155.97 L206.70,155.18 L207.20,154.39 L207.70,153.60 L208.20,152.81 L208.70,152.02 L209.20,151.24 L209.70,150.45 L210.20,149.66 L210.70,148.88 L211.20,148.09 L211.70,147.31 L212.20,146.52 L212.70,145.74 L213.20,144.96 L213.70,144.18 L214.20,143.40 L214.70,142.62 L215.20,141.84 L215.70,141.06 L216.20,140.29 L216.70,139.51 L217.20,138.74 L217.70,137.97 L218.20,137.20 L218.70,136.43 L219.20,135.66 L219.70,134.89 L220.20,134.13 L220.70,133.36 L221.20,132.60 L221.70,131.84 L222.20,131.08 L222.70,130.32 L223.20,129.57 L223.70,128.82 L224.20,128.07 L224.70,127.32 L225.20,126.57 L225.70,125.83 L226.20,125.09 L226.70,124.36 L227.20,123.62 L227.70,122.89 L228.20,122.17 L228.70,121.44 L229.20,120.72 L229.70,120.01 L230.20,119.30 L230.70,118.59 L231.20,117.89 L231.70,117.19 L232.20,116.50 L232.70,115.81 L233.20,115.12 L233.70,114.44 L234.20,113.77 L234.70,113.10 L235.20,112.44 L235.70,111.78 L236.20,111.12 L236.70,110.48 L237.20,109.83 L237.70,109.20 L238.20,108.57 L238.70,107.94 L239.20,107.32 L239.70,106.71 L240.20,106.10 L240.70,105.49 L241.20,104.89 L241.70,104.30 L242.20,103.71 L242.70,103.12 L243.20,102.54 L243.70,101.97 L244.20,101.40 L244.70,100.83 L245.20,100.27 L245.70,99.71 L246.20,99.16 L246.70,98.62 L247.20,98.08 L247.70,97.54 L248.20,97.01 L248.70,96.48 L249.20,95.95 L249.70,95.44 L250.20,94.92 L250.70,94.41 L251.20,93.90 L251.70,93.40 L252.20,92.91 L252.70,92.41 L253.20,91.92 L253.70,91.44 L254.20,90.96 L254.70,90.48 L255.20,90.01 L255.70,89.54 L256.20,89.08 L256.70,88.62 L257.20,88.16 L257.70,87.71 L258.20,87.26 L258.70,86.81 L259.20,86.37 L259.70,85.93 L260.20,85.50 L260.70,85.07 L261.20,84.64 L261.70,84.22 L262.20,83.80 L262.70,83.38 L263.20,82.97 L263.70,82.56 L264.20,82.16 L264.70,81.75 L265.20,81.36 L265.70,80.96 L266.20,80.57 L266.70,80.18 L267.20,79.80 L267.70,79.42 L268.20,79.04 L268.70,78.67 L269.20,78.30 L269.70,77.93 L270.20,77.57 L270.70,77.21 L271.20,76.85 L271.70,76.50 L272.20,76.15 L272.70,75.81 L273.20,75.46 L273.70,75.12 L274.20,74.79 L274.70,74.45 L275.20,74.12 L275.70,73.79 L276.20,73.47 L276.70,73.15 L277.20,72.83 L277.70,72.52 L278.20,72.21 L278.70,71.90 L279.20,71.59 L279.70,71.29 L280.20,70.99 L280.70,70.70 L281.20,70.40 L281.70,70.11 L282.20,69.83 L282.70,69.54 L283.20,69.26 L283.70,68.98 L284.20,68.71 L284.70,68.43 L285.20,68.16 L285.70,67.90 L286.20,67.63 L286.70,67.37 L287.20,67.11 L287.70,66.86 L288.20,66.61 L288.70,66.36 L289.20,66.11 L289.70,65.86 L290.20,65.62 L290.70,65.38 L291.20,65.15 L291.70,64.91 L292.20,64.68 L292.70,64.45 L293.20,64.23 L293.70,64.00 L294.20,63.78 L294.70,63.56 L295.20,63.35 L295.70,63.13 L296.20,62.92 L296.70,62.72 L297.20,62.51 L297.70,62.31 L298.20,62.10 L298.70,61.91 L299.20,61.71 L299.70,61.52 L300.20,61.32 L300.70,61.14 L301.20,60.95 L301.70,60.76 L302.20,60.58 L302.70,60.40 L303.20,60.22 L303.70,60.05 L304.20,59.87 L304.70,59.70 L305.20,59.53 L305.70,59.37 L306.20,59.20 L306.70,59.04 L307.20,58.88 L307.70,58.72 L308.20,58.56 L308.70,58.41 L309.20,58.26 L309.70,58.11 L310.20,57.96 L310.70,57.81 L311.20,57.67 L311.70,57.53 L312.20,57.39 L312.70,57.25 L313.20,57.11 L313.70,56.98 L314.20,56.85 L314.70,56.71 L315.20,56.59 L315.70,56.46 L316.20,56.33 L316.70,56.21 L317.20,56.09 L317.70,55.97 L318.20,55.85 L318.70,55.73 L319.20,55.62 L319.70,55.50 L320.20,55.39 L320.70,55.28 L321.20,55.17 L321.70,55.07 L322.20,54.96 L322.70,54.86 L323.20,54.76 L323.70,54.66 L324.20,54.56 L324.70,54.46 L325.20,54.36 L325.70,54.27 L326.20,54.18 L326.70,54.08 L327.20,53.99 L327.70,53.91 L328.20,53.82 L328.70,53.73 L329.20,53.65 L329.70,53.56 L330.20,53.48 L330.70,53.40 L331.20,53.32 L331.70,53.24 L332.20,53.17 L332.70,53.09 L333.20,53.02 L333.70,52.94 L334.20,52.87 L334.70,52.80 L335.20,52.73 L335.70,52.66 L336.20,52.59 L336.70,52.53 L337.20,52.46 L337.70,52.40 L338.20,52.34 L338.70,52.27 L339.20,52.21 L339.70,52.15 L340.20,52.09 L340.70,52.03 L341.20,51.98 L341.70,51.92 L342.20,51.87 L342.70,51.81 L343.20,51.76 L343.70,51.70 L344.20,51.65 L344.70,51.60 L345.20,51.55 L345.70,51.50 L346.20,51.45 L346.70,51.40 L347.20,51.36 L347.70,51.31 L348.20,51.26 L348.70,51.22 L349.20,51.17 L349.70,51.13 L350.20,51.09 L350.70,51.04 L351.20,51.00 L351.70,50.96 L352.20,50.92 L352.70,50.88 L353.20,50.84 L353.70,50.80 L354.20,50.76 L354.70,50.72 L355.20,50.68 L355.70,50.65 L356.20,50.61 L356.70,50.57 L357.20,50.54 L357.70,50.50 L358.20,50.46 L358.70,50.43 L359.20,50.39 L359.70,50.36 L360.20,50.32 L360.70,50.29 L361.20,50.26 L361.70,50.22 L362.20,50.19 L362.70,50.16 L363.20,50.12 L363.70,50.09 L364.20,50.06 L364.70,50.02 L365.20,49.99 L365.70,49.96 L366.20,49.93 L366.70,49.89 L367.20,49.86 L367.70,49.83 L368.20,49.80 L368.70,49.77 L369.20,49.73 L369.70,49.70 L370.20,49.67 L370.70,49.64 L371.20,49.60 L371.70,49.57 L372.20,49.54 L372.70,49.51 L373.20,49.47 L373.70,49.44 L374.20,49.41 L374.70,49.37 L375.20,49.34 L375.70,49.30 L376.20,49.27 L376.70,49.24 L377.20,49.20 L377.70,49.17 L378.00,49.14" fill="none" stroke="#48A8C0" stroke-width="0.90" stroke-linejoin="round"/>
<path d="M114.20,111.84 L115.33,113.97 L113.08,113.97 Z" fill="#2C8CE0"/>
<path d="M117.88,133.56 L119.01,135.68 L116.76,135.68 Z" fill="#2C8CE0"/>
<path d="M121.56,152.02 L122.69,154.15 L120.44,154.15 Z" fill="#2C8CE0"/>
<path d="M125.24,167.53 L126.37,169.65 L124.12,169.65 Z" fill="#2C8CE0"/>
<path d="M128.92,180.35 L130.05,182.47 L127.80,182.47 Z" fill="#2C8CE0"/>
<path d="M132.60,190.77 L133.72,192.89 L131.47,192.89 Z" fill="#2C8CE0"/>
<path d="M136.28,199.04 L137.41,201.17 L135.16,201.17 Z" fill="#2C8CE0"/>
<path d="M139.96,205.38 L141.09,207.51 L138.84,207.51 Z" fill="#2C8CE0"/>
<path d="M143.64,209.96 L144.77,212.08 L142.52,212.08 Z" fill="#2C8CE0"/>
<path d="M147.32,212.94 L148.44,215.07 L146.19,215.07 Z" fill="#2C8CE0"/>
<path d="M151.00,214.52 L152.12,216.65 L149.88,216.65 Z" fill="#2C8CE0"/>
<path d="M154.68,214.87 L155.81,217.00 L153.56,217.00 Z" fill="#2C8CE0"/>
<path d="M158.36,214.16 L159.49,216.28 L157.24,216.28 Z" fill="#2C8CE0"/>
<path d="M162.04,212.50 L163.17,214.63 L160.92,214.63 Z" fill="#2C8CE0"/>
<path d="M165.72,210.02 L166.84,212.14 L164.59,212.14 Z" fill="#2C8CE0"/>
<path d="M169.40,206.81 L170.53,208.93 L168.28,208.93 Z" fill="#2C8CE0"/>
<path d="M173.08,202.98 L174.21,205.10 L171.96,205.10 Z" fill="#2C8CE0"/>
<path d="M176.76,198.64 L177.88,200.76 L175.63,200.76 Z" fill="#2C8CE0"/>
<path d="M180.44,193.89 L181.56,196.01 L179.31,196.01 Z" fill="#2C8CE0"/>
<path d="M184.12,188.80 L185.25,190.92 L183.00,190.92 Z" fill="#2C8CE0"/>
<path d="M187.80,183.43 L188.93,185.56 L186.68,185.56 Z" fill="#2C8CE0"/>
<path d="M191.48,177.86 L192.61,179.99 L190.36,179.99 Z" fill="#2C8CE0"/>
<path d="M195.16,172.15 L196.29,174.27 L194.04,174.27 Z" fill="#2C8CE0"/>
<path d="M198.84,166.36 L199.97,168.48 L197.72,168.48 Z" fill="#2C8CE0"/>
<path d="M202.52,160.54 L203.65,162.66 L201.40,162.66 Z" fill="#2C8CE0"/>
<path d="M206.20,154.72 L207.32,156.84 L205.07,156.84 Z" fill="#2C8CE0"/>
<path d="M209.88,148.92 L211.00,151.04 L208.75,151.04 Z" fill="#2C8CE0"/>
<path d="M213.56,143.15 L214.69,145.27 L212.44,145.27 Z" fill="#2C8CE0"/>
<path d="M217.24,137.43 L218.37,139.55 L216.12,139.55 Z" fill="#2C8CE0"/>
<path d="M220.92,131.78 L222.05,133.90 L219.80,133.90 Z" fill="#2C8CE0"/>
<path d="M224.60,126.22 L225.73,128.34 L223.48,128.34 Z" fill="#2C8CE0"/>
<path d="M228.28,120.80 L229.41,122.93 L227.16,122.93 Z" fill="#2C8CE0"/>
<path d="M235.50,110.79 L236.62,112.91 L234.38,112.91 Z" fill="#2C8CE0"/>
<path d="M242.80,101.75 L243.93,103.88 L241.68,103.88 Z" fill="#2C8CE0"/>
<path d="M250.10,93.77 L251.22,95.90 L248.97,95.90 Z" fill="#2C8CE0"/>
<path d="M257.50,86.64 L258.62,88.76 L256.38,88.76 Z" fill="#2C8CE0"/>
<path d="M264.80,80.43 L265.93,82.55 L263.68,82.55 Z" fill="#2C8CE0"/>
<path d="M272.10,74.97 L273.23,77.10 L270.98,77.10 Z" fill="#2C8CE0"/>
<path d="M279.50,70.16 L280.62,72.29 L278.38,72.29 Z" fill="#2C8CE0"/>
<path d="M286.80,66.07 L287.93,68.20 L285.68,68.20 Z" fill="#2C8CE0"/>
<path d="M294.10,62.58 L295.23,64.70 L292.98,64.70 Z" fill="#2C8CE0"/>
<path d="M301.50,59.59 L302.62,61.71 L300.38,61.71 Z" fill="#2C8CE0"/>
<path d="M308.80,57.13 L309.93,59.26 L307.68,59.26 Z" fill="#2C8CE0"/>
<path d="M319.80,54.23 L320.93,56.36 L318.68,56.36 Z" fill="#2C8CE0"/>
<path d="M330.80,52.14 L331.93,54.26 L329.68,54.26 Z" fill="#2C8CE0"/>
<path d="M338.10,51.10 L339.23,53.22 L336.98,53.22 Z" fill="#2C8CE0"/>
<path d="M345.40,50.28 L346.52,52.41 L344.27,52.41 Z" fill="#2C8CE0"/>
<path d="M356.50,49.34 L357.62,51.46 L355.38,51.46 Z" fill="#2C8CE0"/>
<path d="M367.50,48.59 L368.62,50.72 L366.38,50.72 Z" fill="#2C8CE0"/>
<path d="M374.90,48.11 L376.02,50.23 L373.77,50.23 Z" fill="#2C8CE0"/>
<circle cx="114.20" cy="113.09" r="1.50" fill="none" stroke="#3F90E0" stroke-width="0.45"/>
<circle cx="117.88" cy="134.81" r="1.50" fill="none" stroke="#3F90E0" stroke-width="0.45"/>
<circle cx="121.56" cy="153.27" r="1.50" fill="none" stroke="#3F90E0" stroke-width="0.45"/>
<circle cx="125.24" cy="168.78" r="1.50" fill="none" stroke="#3F90E0" stroke-width="0.45"/>
<circle cx="128.92" cy="181.60" r="1.50" fill="none" stroke="#3F90E0" stroke-width="0.45"/>
<circle cx="132.60" cy="192.02" r="1.50" fill="none" stroke="#3F90E0" stroke-width="0.45"/>
<circle cx="136.28" cy="200.29" r="1.50" fill="none" stroke="#3F90E0" stroke-width="0.45"/>
<circle cx="139.96" cy="206.63" r="1.50" fill="none" stroke="#3F90E0" stroke-width="0.45"/>
<circle cx="143.64" cy="211.21" r="1.50" fill="none" stroke="#3F90E0" stroke-width="0.45"/>
<circle cx="147.32" cy="214.19" r="1.50" fill="none" stroke="#3F90E0" stroke-width="0.45"/>
<circle cx="151.00" cy="215.77" r="1.50" fill="none" stroke="#3F90E0" stroke-width="0.45"/>
<circle cx="154.68" cy="216.12" r="1.50" fill="none" stroke="#3F90E0" stroke-width="0.45"/>
<circle cx="158.36" cy="215.41" r="1.50" fill="none" stroke="#3F90E0" stroke-width="0.45"/>
<circle cx="162.04" cy="213.75" r="1.50" fill="none" stroke="#3F90E0" stroke-width="0.45"/>
<circle cx="165.72" cy="211.27" r="1.50" fill="none" stroke="#3F90E0" stroke-width="0.45"/>
<circle cx="169.40" cy="208.06" r="1.50" fill="none" stroke="#3F90E0" stroke-width="0.45"/>
<circle cx="173.08" cy="204.23" r="1.50" fill="none" stroke="#3F90E0" stroke-width="0.45"/>
<circle cx="176.76" cy="199.89" r="1.50" fill="none" stroke="#3F90E0" stroke-width="0.45"/>
<circle cx="180.44" cy="195.14" r="1.50" fill="none" stroke="#3F90E0" stroke-width="0.45"/>
<circle cx="184.12" cy="190.05" r="1.50" fill="none" stroke="#3F90E0" stroke-width="0.45"/>
<circle cx="187.80" cy="184.68" r="1.50" fill="none" stroke="#3F90E0" stroke-width="0.45"/>
<circle cx="191.48" cy="179.11" r="1.50" fill="none" stroke="#3F90E0" stroke-width="0.45"/>
<circle cx="195.16" cy="173.40" r="1.50" fill="none" stroke="#3F90E0" stroke-width="0.45"/>
<circle cx="198.84" cy="167.61" r="1.50" fill="none" stroke="#3F90E0" stroke-width="0.45"/>
<circle cx="202.52" cy="161.79" r="1.50" fill="none" stroke="#3F90E0" stroke-width="0.45"/>
<circle cx="206.20" cy="155.97" r="1.50" fill="none" stroke="#3F90E0" stroke-width="0.45"/>
<circle cx="209.88" cy="150.17" r="1.50" fill="none" stroke="#3F90E0" stroke-width="0.45"/>
<circle cx="213.56" cy="144.40" r="1.50" fill="none" stroke="#3F90E0" stroke-width="0.45"/>
<circle cx="217.24" cy="138.68" r="1.50" fill="none" stroke="#3F90E0" stroke-width="0.45"/>
<circle cx="220.92" cy="133.03" r="1.50" fill="none" stroke="#3F90E0" stroke-width="0.45"/>
<circle cx="224.60" cy="127.47" r="1.50" fill="none" stroke="#3F90E0" stroke-width="0.45"/>
<circle cx="228.28" cy="122.05" r="1.50" fill="none" stroke="#3F90E0" stroke-width="0.45"/>
<circle cx="235.50" cy="112.04" r="1.50" fill="none" stroke="#3F90E0" stroke-width="0.45"/>
<circle cx="242.80" cy="103.00" r="1.50" fill="none" stroke="#3F90E0" stroke-width="0.45"/>
<circle cx="250.10" cy="95.02" r="1.50" fill="none" stroke="#3F90E0" stroke-width="0.45"/>
<circle cx="257.50" cy="87.89" r="1.50" fill="none" stroke="#3F90E0" stroke-width="0.45"/>
<circle cx="264.80" cy="81.68" r="1.50" fill="none" stroke="#3F90E0" stroke-width="0.45"/>
<circle cx="272.10" cy="76.22" r="1.50" fill="none" stroke="#3F90E0" stroke-width="0.45"/>
<circle cx="279.50" cy="71.41" r="1.50" fill="none" stroke="#3F90E0" stroke-width="0.45"/>
<circle cx="286.80" cy="67.32" r="1.50" fill="none" stroke="#3F90E0" stroke-width="0.45"/>
<circle cx="294.10" cy="63.83" r="1.50" fill="none" stroke="#3F90E0" stroke-width="0.45"/>
<circle cx="301.50" cy="60.84" r="1.50" fill="none" stroke="#3F90E0" stroke-width="0.45"/>
<circle cx="308.80" cy="58.38" r="1.50" fill="none" stroke="#3F90E0" stroke-width="0.45"/>
<circle cx="319.80" cy="55.48" r="1.50" fill="none" stroke="#3F90E0" stroke-width="0.45"/>
<circle cx="330.80" cy="53.39" r="1.50" fill="none" stroke="#3F90E0" stroke-width="0.45"/>
<circle cx="338.10" cy="52.35" r="1.50" fill="none" stroke="#3F90E0" stroke-width="0.45"/>
<circle cx="345.40" cy="51.53" r="1.50" fill="none" stroke="#3F90E0" stroke-width="0.45"/>
<circle cx="356.50" cy="50.59" r="1.50" fill="none" stroke="#3F90E0" stroke-width="0.45"/>
<circle cx="367.50" cy="49.84" r="1.50" fill="none" stroke="#3F90E0" stroke-width="0.45"/>
<circle cx="374.90" cy="49.36" r="1.50" fill="none" stroke="#3F90E0" stroke-width="0.45"/>
<path d="M137.50,-3.43 L138.00,-1.77 L138.50,-0.13 L139.00,1.48 L139.50,3.07 L140.00,4.62 L140.50,6.15 L141.00,7.65 L141.50,9.12 L142.00,10.57 L142.50,12.00 L143.00,13.39 L143.50,14.76 L144.00,16.11 L144.50,17.43 L145.00,18.73 L145.50,20.00 L146.00,21.24 L146.50,22.47 L147.00,23.67 L147.50,24.85 L148.00,26.00 L148.50,27.13 L149.00,28.24 L149.50,29.32 L150.00,30.39 L150.50,31.43 L151.00,32.45 L151.50,33.45 L152.00,34.43 L152.50,35.39 L153.00,36.33 L153.50,37.25 L154.00,38.14 L154.50,39.02 L155.00,39.88 L155.50,40.72 L156.00,41.54 L156.50,42.35 L157.00,43.13 L157.50,43.90 L158.00,44.65 L158.50,45.38 L159.00,46.10 L159.50,46.80 L160.00,47.48 L160.50,48.14 L161.00,48.79 L161.50,49.43 L162.00,50.04 L162.50,50.65 L163.00,51.24 L163.50,51.81 L164.00,52.37 L164.50,52.91 L165.00,53.44 L165.50,53.96 L166.00,54.47 L166.50,54.96 L167.00,55.44 L167.50,55.90 L168.00,56.36 L168.50,56.80 L169.00,57.23 L169.50,57.64 L170.00,58.05 L170.50,58.44 L171.00,58.82 L171.50,59.19 L172.00,59.55 L172.50,59.90 L173.00,60.24 L173.50,60.57 L174.00,60.88 L174.50,61.19 L175.00,61.49 L175.50,61.77 L176.00,62.05 L176.50,62.32 L177.00,62.57 L177.50,62.82 L178.00,63.06 L178.50,63.29 L179.00,63.51 L179.50,63.73 L180.00,63.93 L180.50,64.13 L181.00,64.31 L181.50,64.50 L182.00,64.67 L182.50,64.83 L183.00,64.99 L183.50,65.14 L184.00,65.28 L184.50,65.42 L185.00,65.55 L185.50,65.68 L186.00,65.79 L186.50,65.90 L187.00,66.01 L187.50,66.11 L188.00,66.20 L188.50,66.29 L189.00,66.37 L189.50,66.45 L190.00,66.52 L190.50,66.59 L191.00,66.65 L191.50,66.71 L192.00,66.77 L192.50,66.82 L193.00,66.87 L193.50,66.91 L194.00,66.95 L194.50,66.98 L195.00,67.02 L195.50,67.05 L196.00,67.07 L196.50,67.10 L197.00,67.12 L197.50,67.14 L198.00,67.15 L198.50,67.17 L199.00,67.18 L199.50,67.19 L200.00,67.20 L200.50,67.21 L201.00,67.22 L201.50,67.22 L202.00,67.23 L202.50,67.23 L203.00,67.23 L203.50,67.23 L204.00,67.23 L204.50,67.23 L205.00,67.23 L205.50,67.22 L206.00,67.22 L206.50,67.21 L207.00,67.20 L207.50,67.19 L208.00,67.18 L208.50,67.17 L209.00,67.15 L209.50,67.14 L210.00,67.12 L210.50,67.11 L211.00,67.09 L211.50,67.07 L212.00,67.05 L212.50,67.03 L213.00,67.01 L213.50,66.99 L214.00,66.96 L214.50,66.94 L215.00,66.91 L215.50,66.88 L216.00,66.85 L216.50,66.82 L217.00,66.79 L217.50,66.76 L218.00,66.73 L218.50,66.70 L219.00,66.66 L219.50,66.63 L220.00,66.59 L220.50,66.55 L221.00,66.51 L221.50,66.47 L222.00,66.43 L222.50,66.39 L223.00,66.35 L223.50,66.31 L224.00,66.26 L224.50,66.22 L225.00,66.17 L225.50,66.13 L226.00,66.08 L226.50,66.03 L227.00,65.99 L227.50,65.94 L228.00,65.89 L228.50,65.83 L229.00,65.78 L229.50,65.73 L230.00,65.68 L230.50,65.62 L231.00,65.57 L231.50,65.51 L232.00,65.46 L232.50,65.40 L233.00,65.34 L233.50,65.28 L234.00,65.22 L234.50,65.16 L235.00,65.10 L235.50,65.04 L236.00,64.98 L236.50,64.92 L237.00,64.86 L237.50,64.79 L238.00,64.73 L238.50,64.67 L239.00,64.60 L239.50,64.54 L240.00,64.47 L240.50,64.40 L241.00,64.34 L241.50,64.27 L242.00,64.20 L242.50,64.13 L243.00,64.06 L243.50,63.99 L244.00,63.92 L244.50,63.85 L245.00,63.78 L245.50,63.71 L246.00,63.64 L246.50,63.57 L247.00,63.49 L247.50,63.42 L248.00,63.35 L248.50,63.27 L249.00,63.20 L249.50,63.12 L250.00,63.05 L250.50,62.97 L251.00,62.90 L251.50,62.82 L252.00,62.75 L252.50,62.67 L253.00,62.59 L253.50,62.52 L254.00,62.44 L254.50,62.36 L255.00,62.28 L255.50,62.21 L256.00,62.13 L256.50,62.05 L257.00,61.97 L257.50,61.89 L258.00,61.81 L258.50,61.74 L259.00,61.66 L259.50,61.58 L260.00,61.50 L260.50,61.42 L261.00,61.34 L261.50,61.26 L262.00,61.18 L262.50,61.10 L263.00,61.02 L263.50,60.94 L264.00,60.86 L264.50,60.78 L265.00,60.70 L265.50,60.62 L266.00,60.54 L266.50,60.46 L267.00,60.38 L267.50,60.30 L268.00,60.22 L268.50,60.14 L269.00,60.06 L269.50,59.98 L270.00,59.90 L270.50,59.82 L271.00,59.74 L271.50,59.66 L272.00,59.58 L272.50,59.50 L273.00,59.42 L273.50,59.34 L274.00,59.26 L274.50,59.18 L275.00,59.10 L275.50,59.02 L276.00,58.95 L276.50,58.87 L277.00,58.79 L277.50,58.71 L278.00,58.63 L278.50,58.56 L279.00,58.48 L279.50,58.40 L280.00,58.33 L280.50,58.25 L281.00,58.18 L281.50,58.10 L282.00,58.02 L282.50,57.95 L283.00,57.87 L283.50,57.80 L284.00,57.73 L284.50,57.65 L285.00,57.58 L285.50,57.51 L286.00,57.43 L286.50,57.36 L287.00,57.29 L287.50,57.22 L288.00,57.14 L288.50,57.07 L289.00,57.00 L289.50,56.93 L290.00,56.86 L290.50,56.79 L291.00,56.72 L291.50,56.65 L292.00,56.58 L292.50,56.51 L293.00,56.44 L293.50,56.37 L294.00,56.30 L294.50,56.24 L295.00,56.17 L295.50,56.10 L296.00,56.03 L296.50,55.97 L297.00,55.90 L297.50,55.83 L298.00,55.77 L298.50,55.70 L299.00,55.63 L299.50,55.57 L300.00,55.50 L300.50,55.44 L301.00,55.37 L301.50,55.31 L302.00,55.25 L302.50,55.18 L303.00,55.12 L303.50,55.06 L304.00,54.99 L304.50,54.93 L305.00,54.87 L305.50,54.81 L306.00,54.75 L306.50,54.68 L307.00,54.62 L307.50,54.56 L308.00,54.50 L308.50,54.44 L309.00,54.38 L309.50,54.32 L310.00,54.26 L310.50,54.20 L311.00,54.14 L311.50,54.08 L312.00,54.03 L312.50,53.97 L313.00,53.91 L313.50,53.85 L314.00,53.80 L314.50,53.74 L315.00,53.68 L315.50,53.63 L316.00,53.57 L316.50,53.51 L317.00,53.46 L317.50,53.40 L318.00,53.35 L318.50,53.29 L319.00,53.24 L319.50,53.19 L320.00,53.13 L320.50,53.08 L321.00,53.02 L321.50,52.97 L322.00,52.92 L322.50,52.87 L323.00,52.81 L323.50,52.76 L324.00,52.71 L324.50,52.66 L325.00,52.61 L325.50,52.56 L326.00,52.51 L326.50,52.46 L327.00,52.41 L327.50,52.36 L328.00,52.31 L328.50,52.26 L329.00,52.21 L329.50,52.16 L330.00,52.11 L330.50,52.06 L331.00,52.02 L331.50,51.97 L332.00,51.92 L332.50,51.87 L333.00,51.83 L333.50,51.78 L334.00,51.74 L334.50,51.69 L335.00,51.64 L335.50,51.60 L336.00,51.55 L336.50,51.51 L337.00,51.46 L337.50,51.42 L338.00,51.38 L338.50,51.33 L339.00,51.29 L339.50,51.25 L340.00,51.20 L340.50,51.16 L341.00,51.12 L341.50,51.08 L342.00,51.04 L342.50,50.99 L343.00,50.95 L343.50,50.91 L344.00,50.87 L344.50,50.83 L345.00,50.79 L345.50,50.75 L346.00,50.71 L346.50,50.67 L347.00,50.63 L347.50,50.59 L348.00,50.56 L348.50,50.52 L349.00,50.48 L349.50,50.44 L350.00,50.41 L350.50,50.37 L351.00,50.33 L351.50,50.30 L352.00,50.26 L352.50,50.22 L353.00,50.19 L353.50,50.15 L354.00,50.12 L354.50,50.08 L355.00,50.05 L355.50,50.01 L356.00,49.98 L356.50,49.95 L357.00,49.91 L357.50,49.88 L358.00,49.85 L358.50,49.81 L359.00,49.78 L359.50,49.75 L360.00,49.72 L360.50,49.68 L361.00,49.65 L361.50,49.62 L362.00,49.59 L362.50,49.56 L363.00,49.53 L363.50,49.50 L364.00,49.47 L364.50,49.44 L365.00,49.41 L365.50,49.38 L366.00,49.35 L366.50,49.33 L367.00,49.30 L367.50,49.27 L368.00,49.24 L368.50,49.22 L369.00,49.19 L369.50,49.16 L370.00,49.14 L370.50,49.11 L371.00,49.08 L371.50,49.06 L372.00,49.03 L372.50,49.01 L373.00,48.98 L373.50,48.96 L374.00,48.93 L374.50,48.91 L375.00,48.89 L375.50,48.86 L376.00,48.84 L376.50,48.82 L377.00,48.79 L377.50,48.77 L378.00,48.75" fill="none" stroke="#E5402C" stroke-width="0.95" stroke-linejoin="round"/>
<path d="M139.96,3.00 L141.31,5.55 L138.61,5.55 Z" fill="none" stroke="#E5402C" stroke-width="0.32"/>
<path d="M143.64,13.64 L144.99,16.19 L142.29,16.19 Z" fill="none" stroke="#E5402C" stroke-width="0.32"/>
<path d="M147.32,22.92 L148.67,25.47 L145.97,25.47 Z" fill="none" stroke="#E5402C" stroke-width="0.32"/>
<path d="M151.00,30.95 L152.35,33.50 L149.65,33.50 Z" fill="none" stroke="#E5402C" stroke-width="0.32"/>
<path d="M154.68,37.83 L156.03,40.38 L153.33,40.38 Z" fill="none" stroke="#E5402C" stroke-width="0.32"/>
<path d="M158.36,43.68 L159.71,46.23 L157.01,46.23 Z" fill="none" stroke="#E5402C" stroke-width="0.32"/>
<path d="M162.04,48.59 L163.39,51.14 L160.69,51.14 Z" fill="none" stroke="#E5402C" stroke-width="0.32"/>
<path d="M165.72,52.69 L167.07,55.24 L164.37,55.24 Z" fill="none" stroke="#E5402C" stroke-width="0.32"/>
<path d="M169.40,56.06 L170.75,58.61 L168.05,58.61 Z" fill="none" stroke="#E5402C" stroke-width="0.32"/>
<path d="M173.08,58.79 L174.43,61.34 L171.73,61.34 Z" fill="none" stroke="#E5402C" stroke-width="0.32"/>
<path d="M176.76,60.95 L178.11,63.50 L175.41,63.50 Z" fill="none" stroke="#E5402C" stroke-width="0.32"/>
<path d="M180.44,62.60 L181.79,65.15 L179.09,65.15 Z" fill="none" stroke="#E5402C" stroke-width="0.32"/>
<path d="M184.12,63.82 L185.47,66.37 L182.77,66.37 Z" fill="none" stroke="#E5402C" stroke-width="0.32"/>
<path d="M187.80,64.66 L189.15,67.21 L186.45,67.21 Z" fill="none" stroke="#E5402C" stroke-width="0.32"/>
<path d="M191.48,65.21 L192.83,67.76 L190.13,67.76 Z" fill="none" stroke="#E5402C" stroke-width="0.32"/>
<path d="M195.16,65.53 L196.51,68.08 L193.81,68.08 Z" fill="none" stroke="#E5402C" stroke-width="0.32"/>
<path d="M198.84,65.68 L200.19,68.23 L197.49,68.23 Z" fill="none" stroke="#E5402C" stroke-width="0.32"/>
<path d="M202.52,65.73 L203.87,68.28 L201.17,68.28 Z" fill="none" stroke="#E5402C" stroke-width="0.32"/>
<path d="M206.20,65.71 L207.55,68.26 L204.85,68.26 Z" fill="none" stroke="#E5402C" stroke-width="0.32"/>
<path d="M209.88,65.63 L211.23,68.18 L208.53,68.18 Z" fill="none" stroke="#E5402C" stroke-width="0.32"/>
<path d="M213.56,65.48 L214.91,68.03 L212.21,68.03 Z" fill="none" stroke="#E5402C" stroke-width="0.32"/>
<path d="M217.24,65.28 L218.59,67.83 L215.89,67.83 Z" fill="none" stroke="#E5402C" stroke-width="0.32"/>
<path d="M220.92,65.02 L222.27,67.57 L219.57,67.57 Z" fill="none" stroke="#E5402C" stroke-width="0.32"/>
<path d="M224.60,64.71 L225.95,67.26 L223.25,67.26 Z" fill="none" stroke="#E5402C" stroke-width="0.32"/>
<path d="M228.28,64.36 L229.63,66.91 L226.93,66.91 Z" fill="none" stroke="#E5402C" stroke-width="0.32"/>
<path d="M235.50,63.54 L236.85,66.09 L234.15,66.09 Z" fill="none" stroke="#E5402C" stroke-width="0.32"/>
<path d="M242.80,62.59 L244.15,65.14 L241.45,65.14 Z" fill="none" stroke="#E5402C" stroke-width="0.32"/>
<path d="M250.10,61.53 L251.45,64.08 L248.75,64.08 Z" fill="none" stroke="#E5402C" stroke-width="0.32"/>
<path d="M257.50,60.39 L258.85,62.94 L256.15,62.94 Z" fill="none" stroke="#E5402C" stroke-width="0.32"/>
<path d="M264.80,59.23 L266.15,61.78 L263.45,61.78 Z" fill="none" stroke="#E5402C" stroke-width="0.32"/>
<path d="M272.10,58.06 L273.45,60.61 L270.75,60.61 Z" fill="none" stroke="#E5402C" stroke-width="0.32"/>
<path d="M279.50,56.90 L280.85,59.45 L278.15,59.45 Z" fill="none" stroke="#E5402C" stroke-width="0.32"/>
<path d="M286.80,55.82 L288.15,58.37 L285.45,58.37 Z" fill="none" stroke="#E5402C" stroke-width="0.32"/>
<path d="M294.10,54.79 L295.45,57.34 L292.75,57.34 Z" fill="none" stroke="#E5402C" stroke-width="0.32"/>
<path d="M301.50,53.81 L302.85,56.36 L300.15,56.36 Z" fill="none" stroke="#E5402C" stroke-width="0.32"/>
<path d="M308.80,52.90 L310.15,55.45 L307.45,55.45 Z" fill="none" stroke="#E5402C" stroke-width="0.32"/>
<path d="M319.80,51.65 L321.15,54.20 L318.45,54.20 Z" fill="none" stroke="#E5402C" stroke-width="0.32"/>
<path d="M330.80,50.54 L332.15,53.09 L329.45,53.09 Z" fill="none" stroke="#E5402C" stroke-width="0.32"/>
<path d="M338.10,49.87 L339.45,52.42 L336.75,52.42 Z" fill="none" stroke="#E5402C" stroke-width="0.32"/>
<path d="M345.40,49.26 L346.75,51.81 L344.05,51.81 Z" fill="none" stroke="#E5402C" stroke-width="0.32"/>
<path d="M356.50,48.45 L357.85,51.00 L355.15,51.00 Z" fill="none" stroke="#E5402C" stroke-width="0.32"/>
<path d="M367.50,47.77 L368.85,50.32 L366.15,50.32 Z" fill="none" stroke="#E5402C" stroke-width="0.32"/>
<path d="M374.90,47.39 L376.25,49.94 L373.55,49.94 Z" fill="none" stroke="#E5402C" stroke-width="0.32"/>
<path d="M124.50,-4.11 L125.00,-2.22 L125.50,-0.34 L126.00,1.54 L126.50,3.40 L127.00,5.24 L127.50,7.07 L128.00,8.89 L128.50,10.69 L129.00,12.48 L129.50,14.24 L130.00,15.99 L130.50,17.72 L131.00,19.43 L131.50,21.12 L132.00,22.78 L132.50,24.42 L133.00,26.04 L133.50,27.64 L134.00,29.20 L134.50,30.74 L135.00,32.26 L135.50,33.74 L136.00,35.20 L136.50,36.63 L137.00,38.02 L137.50,39.39 L138.00,40.72 L138.50,42.02 L139.00,43.29 L139.50,44.54 L140.00,45.75 L140.50,46.93 L141.00,48.08 L141.50,49.20 L142.00,50.30 L142.50,51.37 L143.00,52.40 L143.50,53.41 L144.00,54.39 L144.50,55.35 L145.00,56.28 L145.50,57.18 L146.00,58.05 L146.50,58.90 L147.00,59.72 L147.50,60.51 L148.00,61.28 L148.50,62.03 L149.00,62.75 L149.50,63.44 L150.00,64.11 L150.50,64.76 L151.00,65.38 L151.50,65.98 L152.00,66.56 L152.50,67.11 L153.00,67.64 L153.50,68.14 L154.00,68.63 L154.50,69.09 L155.00,69.53 L155.50,69.95 L156.00,70.35 L156.50,70.73 L157.00,71.09 L157.50,71.43 L158.00,71.75 L158.50,72.04 L159.00,72.32 L159.50,72.59 L160.00,72.83 L160.50,73.05 L161.00,73.26 L161.50,73.45 L162.00,73.62 L162.50,73.77 L163.00,73.91 L163.50,74.04 L164.00,74.14 L164.50,74.23 L165.00,74.31 L165.50,74.37 L166.00,74.41 L166.50,74.45 L167.00,74.46 L167.50,74.47 L168.00,74.46 L168.50,74.43 L169.00,74.40 L169.50,74.35 L170.00,74.29 L170.50,74.22 L171.00,74.14 L171.50,74.04 L172.00,73.94 L172.50,73.82 L173.00,73.69 L173.50,73.56 L174.00,73.41 L174.50,73.26 L175.00,73.09 L175.50,72.92 L176.00,72.73 L176.50,72.54 L177.00,72.34 L177.50,72.14 L178.00,71.92 L178.50,71.70 L179.00,71.47 L179.50,71.23 L180.00,70.99 L180.50,70.74 L181.00,70.49 L181.50,70.23 L182.00,69.96 L182.50,69.69 L183.00,69.41 L183.50,69.13 L184.00,68.84 L184.50,68.55 L185.00,68.25 L185.50,67.96 L186.00,67.65 L186.50,67.35 L187.00,67.04 L187.50,66.73 L188.00,66.42 L188.50,66.10 L189.00,65.78 L189.50,65.46 L190.00,65.14 L190.50,64.82 L191.00,64.50 L191.50,64.17 L192.00,63.85 L192.50,63.53 L193.00,63.20 L193.50,62.88 L194.00,62.55 L194.50,62.23 L195.00,61.91 L195.50,61.59 L196.00,61.28 L196.50,60.96 L197.00,60.65 L197.50,60.34 L198.00,60.03 L198.50,59.72 L199.00,59.42 L199.50,59.11 L200.00,58.81 L200.50,58.51 L201.00,58.22 L201.50,57.93 L202.00,57.63 L202.50,57.34 L203.00,57.06 L203.50,56.77 L204.00,56.49 L204.50,56.21 L205.00,55.93 L205.50,55.65 L206.00,55.38 L206.50,55.11 L207.00,54.84 L207.50,54.57 L208.00,54.30 L208.50,54.04 L209.00,53.78 L209.50,53.52 L210.00,53.26 L210.50,53.00 L211.00,52.75 L211.50,52.50 L212.00,52.25 L212.50,52.00 L213.00,51.75 L213.50,51.51 L214.00,51.27 L214.50,51.03 L215.00,50.79 L215.50,50.55 L216.00,50.32 L216.50,50.09 L217.00,49.86 L217.50,49.63 L218.00,49.40 L218.50,49.18 L219.00,48.96 L219.50,48.74 L220.00,48.52 L220.50,48.30 L221.00,48.09 L221.50,47.87 L222.00,47.66 L222.50,47.45 L223.00,47.24 L223.50,47.04 L224.00,46.84 L224.50,46.63 L225.00,46.43 L225.50,46.24 L226.00,46.04 L226.50,45.84 L227.00,45.65 L227.50,45.46 L228.00,45.27 L228.50,45.08 L229.00,44.90 L229.50,44.71 L230.00,44.53 L230.50,44.35 L231.00,44.17 L231.50,44.00 L232.00,43.82 L232.50,43.65 L233.00,43.48 L233.50,43.31 L234.00,43.14 L234.50,42.97 L235.00,42.81 L235.50,42.64 L236.00,42.48 L236.50,42.32 L237.00,42.16 L237.50,42.01 L238.00,41.85 L238.50,41.70 L239.00,41.55 L239.50,41.40 L240.00,41.25 L240.50,41.10 L241.00,40.96 L241.50,40.81 L242.00,40.67 L242.50,40.53 L243.00,40.39 L243.50,40.25 L244.00,40.12 L244.50,39.98 L245.00,39.85 L245.50,39.72 L246.00,39.59 L246.50,39.46 L247.00,39.33 L247.50,39.21 L248.00,39.09 L248.50,38.96 L249.00,38.84 L249.50,38.72 L250.00,38.61 L250.50,38.49 L251.00,38.37 L251.50,38.26 L252.00,38.15 L252.50,38.04 L253.00,37.93 L253.50,37.82 L254.00,37.72 L254.50,37.61 L255.00,37.51 L255.50,37.41 L256.00,37.31 L256.50,37.21 L257.00,37.11 L257.50,37.01 L258.00,36.92 L258.50,36.82 L259.00,36.73 L259.50,36.64 L260.00,36.55 L260.50,36.46 L261.00,36.37 L261.50,36.29 L262.00,36.20 L262.50,36.12 L263.00,36.04 L263.50,35.96 L264.00,35.88 L264.50,35.80 L265.00,35.72 L265.50,35.65 L266.00,35.57 L266.50,35.50 L267.00,35.43 L267.50,35.35 L268.00,35.28 L268.50,35.22 L269.00,35.15 L269.50,35.08 L270.00,35.02 L270.50,34.95 L271.00,34.89 L271.50,34.83 L272.00,34.77 L272.50,34.71 L273.00,34.65 L273.50,34.60 L274.00,34.54 L274.50,34.49 L275.00,34.43 L275.50,34.38 L276.00,34.33 L276.50,34.28 L277.00,34.23 L277.50,34.18 L278.00,34.13 L278.50,34.09 L279.00,34.04 L279.50,34.00 L280.00,33.96 L280.50,33.92 L281.00,33.88 L281.50,33.84 L282.00,33.80 L282.50,33.76 L283.00,33.72 L283.50,33.69 L284.00,33.65 L284.50,33.62 L285.00,33.59 L285.50,33.55 L286.00,33.52 L286.50,33.49 L287.00,33.46 L287.50,33.44 L288.00,33.41 L288.50,33.38 L289.00,33.36 L289.50,33.33 L290.00,33.31 L290.50,33.29 L291.00,33.27 L291.50,33.24 L292.00,33.22 L292.50,33.21 L293.00,33.19 L293.50,33.17 L294.00,33.15 L294.50,33.14 L295.00,33.12 L295.50,33.11 L296.00,33.09 L296.50,33.08 L297.00,33.07 L297.50,33.06 L298.00,33.05 L298.50,33.04 L299.00,33.03 L299.50,33.02 L300.00,33.02 L300.50,33.01 L301.00,33.00 L301.50,33.00 L302.00,33.00 L302.50,32.99 L303.00,32.99 L303.50,32.99 L304.00,32.99 L304.50,32.99 L305.00,32.99 L305.50,32.99 L306.00,32.99 L306.50,32.99 L307.00,32.99 L307.50,33.00 L308.00,33.00 L308.50,33.00 L309.00,33.01 L309.50,33.01 L310.00,33.02 L310.50,33.03 L311.00,33.04 L311.50,33.04 L312.00,33.05 L312.50,33.06 L313.00,33.07 L313.50,33.08 L314.00,33.09 L314.50,33.10 L315.00,33.12 L315.50,33.13 L316.00,33.14 L316.50,33.16 L317.00,33.17 L317.50,33.18 L318.00,33.20 L318.50,33.22 L319.00,33.23 L319.50,33.25 L320.00,33.27 L320.50,33.28 L321.00,33.30 L321.50,33.32 L322.00,33.34 L322.50,33.36 L323.00,33.38 L323.50,33.40 L324.00,33.42 L324.50,33.44 L325.00,33.46 L325.50,33.48 L326.00,33.50 L326.50,33.53 L327.00,33.55 L327.50,33.57 L328.00,33.60 L328.50,33.62 L329.00,33.64 L329.50,33.67 L330.00,33.69 L330.50,33.72 L331.00,33.74 L331.50,33.77 L332.00,33.80 L332.50,33.82 L333.00,33.85 L333.50,33.88 L334.00,33.90 L334.50,33.93 L335.00,33.96 L335.50,33.99 L336.00,34.01 L336.50,34.04 L337.00,34.07 L337.50,34.10 L338.00,34.13 L338.50,34.16 L339.00,34.19 L339.50,34.22 L340.00,34.25 L340.50,34.28 L341.00,34.31 L341.50,34.34 L342.00,34.37 L342.50,34.40 L343.00,34.43 L343.50,34.46 L344.00,34.49 L344.50,34.52 L345.00,34.55 L345.50,34.58 L346.00,34.61 L346.50,34.64 L347.00,34.68 L347.50,34.71 L348.00,34.74 L348.50,34.77 L349.00,34.80 L349.50,34.83 L350.00,34.87 L350.50,34.90 L351.00,34.93 L351.50,34.96 L352.00,34.99 L352.50,35.03 L353.00,35.06 L353.50,35.09 L354.00,35.12 L354.50,35.15 L355.00,35.18 L355.50,35.22 L356.00,35.25 L356.50,35.28 L357.00,35.31 L357.50,35.34 L358.00,35.37 L358.50,35.40 L359.00,35.44 L359.50,35.47 L360.00,35.50 L360.50,35.53 L361.00,35.56 L361.50,35.59 L362.00,35.62 L362.50,35.65 L363.00,35.68 L363.50,35.71 L364.00,35.74 L364.50,35.77 L365.00,35.80 L365.50,35.83 L366.00,35.86 L366.50,35.89 L367.00,35.91 L367.50,35.94 L368.00,35.97 L368.50,36.00 L369.00,36.03 L369.50,36.05 L370.00,36.08 L370.50,36.11 L371.00,36.14 L371.50,36.16 L372.00,36.19 L372.50,36.21 L373.00,36.24 L373.50,36.26 L374.00,36.29 L374.50,36.31 L375.00,36.34 L375.50,36.36 L376.00,36.39 L376.50,36.41 L377.00,36.43 L377.50,36.45 L378.00,36.48" fill="none" stroke="#A436DE" stroke-width="0.90" stroke-linejoin="round"/>
<circle cx="128.92" cy="12.19" r="0.70" fill="#A436DE"/>
<circle cx="132.60" cy="24.75" r="0.70" fill="#A436DE"/>
<circle cx="136.28" cy="36.00" r="0.70" fill="#A436DE"/>
<circle cx="139.96" cy="45.65" r="0.70" fill="#A436DE"/>
<circle cx="143.64" cy="53.69" r="0.70" fill="#A436DE"/>
<circle cx="147.32" cy="60.23" r="0.70" fill="#A436DE"/>
<circle cx="151.00" cy="65.38" r="0.70" fill="#A436DE"/>
<circle cx="154.68" cy="69.25" r="0.70" fill="#A436DE"/>
<circle cx="158.36" cy="71.96" r="0.70" fill="#A436DE"/>
<circle cx="162.04" cy="73.63" r="0.70" fill="#A436DE"/>
<circle cx="165.72" cy="74.39" r="0.70" fill="#A436DE"/>
<circle cx="169.40" cy="74.36" r="0.70" fill="#A436DE"/>
<circle cx="173.08" cy="73.67" r="0.70" fill="#A436DE"/>
<circle cx="176.76" cy="72.44" r="0.70" fill="#A436DE"/>
<circle cx="180.44" cy="70.77" r="0.70" fill="#A436DE"/>
<circle cx="184.12" cy="68.77" r="0.70" fill="#A436DE"/>
<circle cx="187.80" cy="66.54" r="0.70" fill="#A436DE"/>
<circle cx="191.48" cy="64.19" r="0.70" fill="#A436DE"/>
<circle cx="195.16" cy="61.81" r="0.70" fill="#A436DE"/>
<circle cx="198.84" cy="59.51" r="0.70" fill="#A436DE"/>
<circle cx="202.52" cy="57.33" r="0.70" fill="#A436DE"/>
<circle cx="206.20" cy="55.27" r="0.70" fill="#A436DE"/>
<circle cx="209.88" cy="53.32" r="0.70" fill="#A436DE"/>
<circle cx="213.56" cy="51.48" r="0.70" fill="#A436DE"/>
<circle cx="217.24" cy="49.75" r="0.70" fill="#A436DE"/>
<circle cx="220.92" cy="48.12" r="0.70" fill="#A436DE"/>
<circle cx="224.60" cy="46.59" r="0.70" fill="#A436DE"/>
<circle cx="228.28" cy="45.17" r="0.70" fill="#A436DE"/>
<circle cx="235.50" cy="42.64" r="0.70" fill="#A436DE"/>
<circle cx="242.80" cy="40.45" r="0.70" fill="#A436DE"/>
<circle cx="250.10" cy="38.58" r="0.70" fill="#A436DE"/>
<circle cx="257.50" cy="37.01" r="0.70" fill="#A436DE"/>
<circle cx="264.80" cy="35.75" r="0.70" fill="#A436DE"/>
<circle cx="272.10" cy="34.76" r="0.70" fill="#A436DE"/>
<circle cx="279.50" cy="34.00" r="0.70" fill="#A436DE"/>
<circle cx="286.80" cy="33.48" r="0.70" fill="#A436DE"/>
<circle cx="294.10" cy="33.15" r="0.70" fill="#A436DE"/>
<circle cx="301.50" cy="33.00" r="0.70" fill="#A436DE"/>
<circle cx="308.80" cy="33.01" r="0.70" fill="#A436DE"/>
<circle cx="319.80" cy="33.26" r="0.70" fill="#A436DE"/>
<circle cx="330.80" cy="33.73" r="0.70" fill="#A436DE"/>
<circle cx="338.10" cy="34.13" r="0.70" fill="#A436DE"/>
<circle cx="345.40" cy="34.58" r="0.70" fill="#A436DE"/>
<circle cx="356.50" cy="35.28" r="0.70" fill="#A436DE"/>
<circle cx="367.50" cy="35.94" r="0.70" fill="#A436DE"/>
<circle cx="374.90" cy="36.33" r="0.70" fill="#A436DE"/>
<g opacity="0.55"><path d="M152.00,-2.76 L152.50,-1.71 L153.00,-0.70 L153.50,0.29 L154.00,1.24 L154.50,2.16 L155.00,3.04 L155.50,3.90 L156.00,4.73 L156.50,5.53 L157.00,6.30 L157.50,7.04 L158.00,7.76 L158.50,8.45 L159.00,9.12 L159.50,9.76 L160.00,10.37 L160.50,10.97 L161.00,11.54 L161.50,12.09 L162.00,12.62 L162.50,13.13 L163.00,13.62 L163.50,14.09 L164.00,14.54 L164.50,14.98 L165.00,15.40 L165.50,15.80 L166.00,16.19 L166.50,16.56 L167.00,16.92 L167.50,17.26 L168.00,17.59 L168.50,17.90 L169.00,18.20 L169.50,18.49 L170.00,18.76 L170.50,19.02 L171.00,19.27 L171.50,19.50 L172.00,19.73 L172.50,19.94 L173.00,20.14 L173.50,20.32 L174.00,20.50 L174.50,20.66 L175.00,20.82 L175.50,20.96 L176.00,21.10 L176.50,21.22 L177.00,21.33 L177.50,21.44 L178.00,21.53 L178.50,21.62 L179.00,21.70 L179.50,21.77 L180.00,21.83 L180.50,21.89 L181.00,21.94 L181.50,21.98 L182.00,22.01 L182.50,22.04 L183.00,22.06 L183.50,22.07 L184.00,22.08 L184.50,22.08 L185.00,22.08 L185.50,22.07 L186.00,22.06 L186.50,22.04 L187.00,22.02 L187.50,21.99 L188.00,21.96 L188.50,21.93 L189.00,21.89 L189.50,21.85 L190.00,21.80 L190.50,21.76 L191.00,21.71 L191.50,21.66 L192.00,21.61 L192.50,21.55 L193.00,21.50 L193.50,21.44 L194.00,21.38 L194.50,21.32 L195.00,21.26 L195.50,21.21 L196.00,21.15 L196.50,21.09 L197.00,21.03 L197.50,20.97 L198.00,20.92 L198.50,20.86 L199.00,20.81 L199.50,20.76 L200.00,20.71 L200.50,20.66 L201.00,20.62 L201.50,20.57 L202.00,20.53 L202.50,20.50 L203.00,20.46 L203.50,20.43 L204.00,20.40 L204.50,20.37 L205.00,20.34 L205.50,20.32 L206.00,20.30 L206.50,20.28 L207.00,20.26 L207.50,20.25 L208.00,20.23 L208.50,20.22 L209.00,20.22 L209.50,20.21 L210.00,20.21 L210.50,20.21 L211.00,20.21 L211.50,20.21 L212.00,20.22 L212.50,20.22 L213.00,20.23 L213.50,20.24 L214.00,20.26 L214.50,20.27 L215.00,20.29 L215.50,20.31 L216.00,20.34 L216.50,20.36 L217.00,20.39 L217.50,20.42 L218.00,20.45 L218.50,20.48 L219.00,20.52 L219.50,20.55 L220.00,20.59 L220.50,20.63 L221.00,20.68 L221.50,20.72 L222.00,20.77 L222.50,20.81 L223.00,20.86 L223.50,20.91 L224.00,20.97 L224.50,21.02 L225.00,21.08 L225.50,21.14 L226.00,21.20 L226.50,21.26 L227.00,21.32 L227.50,21.38 L228.00,21.45 L228.50,21.51 L229.00,21.58 L229.50,21.65 L230.00,21.72 L230.50,21.79 L231.00,21.86 L231.50,21.94 L232.00,22.01 L232.50,22.09 L233.00,22.16 L233.50,22.24 L234.00,22.32 L234.50,22.40 L235.00,22.48 L235.50,22.56 L236.00,22.64 L236.50,22.73 L237.00,22.81 L237.50,22.89 L238.00,22.98 L238.50,23.06 L239.00,23.15 L239.50,23.24 L240.00,23.33 L240.50,23.41 L241.00,23.50 L241.50,23.59 L242.00,23.68 L242.50,23.77 L243.00,23.86 L243.50,23.95 L244.00,24.04 L244.50,24.13 L245.00,24.22 L245.50,24.32 L246.00,24.41 L246.50,24.50 L247.00,24.59 L247.50,24.68 L248.00,24.77 L248.50,24.87 L249.00,24.96 L249.50,25.05 L250.00,25.14 L250.50,25.23 L251.00,25.32 L251.50,25.42 L252.00,25.51 L252.50,25.60 L253.00,25.69 L253.50,25.78 L254.00,25.87 L254.50,25.95 L255.00,26.04 L255.50,26.13 L256.00,26.22 L256.50,26.31 L257.00,26.39 L257.50,26.48 L258.00,26.56 L258.50,26.65 L259.00,26.73 L259.50,26.81 L260.00,26.90 L260.50,26.98 L261.00,27.06 L261.50,27.14 L262.00,27.22 L262.50,27.30 L263.00,27.37 L263.50,27.45 L264.00,27.53 L264.50,27.60 L265.00,27.68 L265.50,27.75 L266.00,27.83 L266.50,27.90 L267.00,27.97 L267.50,28.04 L268.00,28.12 L268.50,28.19 L269.00,28.26 L269.50,28.33 L270.00,28.40 L270.50,28.46 L271.00,28.53 L271.50,28.60 L272.00,28.66 L272.50,28.73 L273.00,28.80 L273.50,28.86 L274.00,28.93 L274.50,28.99 L275.00,29.05 L275.50,29.12 L276.00,29.18 L276.50,29.24 L277.00,29.30 L277.50,29.36 L278.00,29.42 L278.50,29.48 L279.00,29.54 L279.50,29.60 L280.00,29.66 L280.50,29.72 L281.00,29.78 L281.50,29.83 L282.00,29.89 L282.50,29.95 L283.00,30.00 L283.50,30.06 L284.00,30.12 L284.50,30.17 L285.00,30.23 L285.50,30.28 L286.00,30.34 L286.50,30.39 L287.00,30.44 L287.50,30.50 L288.00,30.55 L288.50,30.60 L289.00,30.65 L289.50,30.71 L290.00,30.76 L290.50,30.81 L291.00,30.86 L291.50,30.91 L292.00,30.96 L292.50,31.01 L293.00,31.06 L293.50,31.12 L294.00,31.17 L294.50,31.22 L295.00,31.26 L295.50,31.31 L296.00,31.36 L296.50,31.41 L297.00,31.46 L297.50,31.51 L298.00,31.56 L298.50,31.61 L299.00,31.65 L299.50,31.70 L300.00,31.75 L300.50,31.80 L301.00,31.84 L301.50,31.89 L302.00,31.94 L302.50,31.98 L303.00,32.03 L303.50,32.08 L304.00,32.12 L304.50,32.17 L305.00,32.21 L305.50,32.26 L306.00,32.30 L306.50,32.35 L307.00,32.39 L307.50,32.44 L308.00,32.48 L308.50,32.52 L309.00,32.57 L309.50,32.61 L310.00,32.65 L310.50,32.70 L311.00,32.74 L311.50,32.78 L312.00,32.82 L312.50,32.87 L313.00,32.91 L313.50,32.95 L314.00,32.99 L314.50,33.03 L315.00,33.07 L315.50,33.11 L316.00,33.15 L316.50,33.19 L317.00,33.23 L317.50,33.27 L318.00,33.31 L318.50,33.35 L319.00,33.39 L319.50,33.43 L320.00,33.47 L320.50,33.51 L321.00,33.55 L321.50,33.58 L322.00,33.62 L322.50,33.66 L323.00,33.70 L323.50,33.73 L324.00,33.77 L324.50,33.81 L325.00,33.84 L325.50,33.88 L326.00,33.92 L326.50,33.95 L327.00,33.99 L327.50,34.02 L328.00,34.06 L328.50,34.09 L329.00,34.13 L329.50,34.16 L330.00,34.19 L330.50,34.23 L331.00,34.26 L331.50,34.30 L332.00,34.33 L332.50,34.36 L333.00,34.39 L333.50,34.43 L334.00,34.46 L334.50,34.49 L335.00,34.52 L335.50,34.55 L336.00,34.58 L336.50,34.61 L337.00,34.65 L337.50,34.68 L338.00,34.71 L338.50,34.74 L339.00,34.77 L339.50,34.80 L340.00,34.82 L340.50,34.85 L341.00,34.88 L341.50,34.91 L342.00,34.94 L342.50,34.97 L343.00,34.99 L343.50,35.02 L344.00,35.05 L344.50,35.08 L345.00,35.10 L345.50,35.13 L346.00,35.16 L346.50,35.18 L347.00,35.21 L347.50,35.23 L348.00,35.26 L348.50,35.28 L349.00,35.31 L349.50,35.33 L350.00,35.36 L350.50,35.38 L351.00,35.40 L351.50,35.43 L352.00,35.45 L352.50,35.47 L353.00,35.50 L353.50,35.52 L354.00,35.54 L354.50,35.56 L355.00,35.59 L355.50,35.61 L356.00,35.63 L356.50,35.65 L357.00,35.67 L357.50,35.69 L358.00,35.71 L358.50,35.73 L359.00,35.75 L359.50,35.77 L360.00,35.79 L360.50,35.81 L361.00,35.83 L361.50,35.84 L362.00,35.86 L362.50,35.88 L363.00,35.90 L363.50,35.92 L364.00,35.93 L364.50,35.95 L365.00,35.97 L365.50,35.98 L366.00,36.00 L366.50,36.01 L367.00,36.03 L367.50,36.05 L368.00,36.06 L368.50,36.08 L369.00,36.09 L369.50,36.10 L370.00,36.12 L370.50,36.13 L371.00,36.14 L371.50,36.16 L372.00,36.17 L372.50,36.18 L373.00,36.20 L373.50,36.21 L374.00,36.22 L374.50,36.23 L375.00,36.24 L375.50,36.25 L376.00,36.26 L376.50,36.27 L377.00,36.28 L377.50,36.29 L378.00,36.30" fill="none" stroke="#E5402C" stroke-width="0.85" stroke-linejoin="round"/></g>
<path d="M157.01,6.91 L159.71,9.61 M157.01,9.61 L159.71,6.91" fill="none" stroke="#0A8A60" stroke-width="0.70"/>
<path d="M160.69,11.31 L163.39,14.01 M160.69,14.01 L163.39,11.31" fill="none" stroke="#0A8A60" stroke-width="0.70"/>
<path d="M164.37,14.62 L167.07,17.32 M164.37,17.32 L167.07,14.62" fill="none" stroke="#0A8A60" stroke-width="0.70"/>
<path d="M168.05,17.08 L170.75,19.78 M168.05,19.78 L170.75,17.08" fill="none" stroke="#0A8A60" stroke-width="0.70"/>
<path d="M171.73,18.82 L174.43,21.52 M171.73,21.52 L174.43,18.82" fill="none" stroke="#0A8A60" stroke-width="0.70"/>
<path d="M175.41,19.93 L178.11,22.63 M175.41,22.63 L178.11,19.93" fill="none" stroke="#0A8A60" stroke-width="0.70"/>
<path d="M179.09,20.53 L181.79,23.23 M179.09,23.23 L181.79,20.53" fill="none" stroke="#0A8A60" stroke-width="0.70"/>
<path d="M182.77,20.73 L185.47,23.43 M182.77,23.43 L185.47,20.73" fill="none" stroke="#0A8A60" stroke-width="0.70"/>
<path d="M186.45,20.62 L189.15,23.32 M186.45,23.32 L189.15,20.62" fill="none" stroke="#0A8A60" stroke-width="0.70"/>
<path d="M190.13,20.31 L192.83,23.01 M190.13,23.01 L192.83,20.31" fill="none" stroke="#0A8A60" stroke-width="0.70"/>
<path d="M193.81,19.90 L196.51,22.60 M193.81,22.60 L196.51,19.90" fill="none" stroke="#0A8A60" stroke-width="0.70"/>
<path d="M197.49,19.48 L200.19,22.18 M197.49,22.18 L200.19,19.48" fill="none" stroke="#0A8A60" stroke-width="0.70"/>
<path d="M201.17,19.15 L203.87,21.85 M201.17,21.85 L203.87,19.15" fill="none" stroke="#0A8A60" stroke-width="0.70"/>
<path d="M204.85,18.94 L207.55,21.64 M204.85,21.64 L207.55,18.94" fill="none" stroke="#0A8A60" stroke-width="0.70"/>
<path d="M208.53,18.86 L211.23,21.56 M208.53,21.56 L211.23,18.86" fill="none" stroke="#0A8A60" stroke-width="0.70"/>
<path d="M212.21,18.90 L214.91,21.60 M212.21,21.60 L214.91,18.90" fill="none" stroke="#0A8A60" stroke-width="0.70"/>
<path d="M215.89,19.05 L218.59,21.75 M215.89,21.75 L218.59,19.05" fill="none" stroke="#0A8A60" stroke-width="0.70"/>
<path d="M219.57,19.32 L222.27,22.02 M219.57,22.02 L222.27,19.32" fill="none" stroke="#0A8A60" stroke-width="0.70"/>
<path d="M223.25,19.68 L225.95,22.38 M223.25,22.38 L225.95,19.68" fill="none" stroke="#0A8A60" stroke-width="0.70"/>
<path d="M226.93,20.13 L229.63,22.83 M226.93,22.83 L229.63,20.13" fill="none" stroke="#0A8A60" stroke-width="0.70"/>
<path d="M234.15,21.21 L236.85,23.91 M234.15,23.91 L236.85,21.21" fill="none" stroke="#0A8A60" stroke-width="0.70"/>
<path d="M241.45,22.47 L244.15,25.17 M241.45,25.17 L244.15,22.47" fill="none" stroke="#0A8A60" stroke-width="0.70"/>
<path d="M248.75,23.81 L251.45,26.51 M248.75,26.51 L251.45,23.81" fill="none" stroke="#0A8A60" stroke-width="0.70"/>
<path d="M256.15,25.13 L258.85,27.83 M256.15,27.83 L258.85,25.13" fill="none" stroke="#0A8A60" stroke-width="0.70"/>
<path d="M263.45,26.30 L266.15,29.00 M263.45,29.00 L266.15,26.30" fill="none" stroke="#0A8A60" stroke-width="0.70"/>
<path d="M270.75,27.33 L273.45,30.03 M270.75,30.03 L273.45,27.33" fill="none" stroke="#0A8A60" stroke-width="0.70"/>
<path d="M278.15,28.25 L280.85,30.95 M278.15,30.95 L280.85,28.25" fill="none" stroke="#0A8A60" stroke-width="0.70"/>
<path d="M285.45,29.07 L288.15,31.77 M285.45,31.77 L288.15,29.07" fill="none" stroke="#0A8A60" stroke-width="0.70"/>
<path d="M292.75,29.83 L295.45,32.53 M292.75,32.53 L295.45,29.83" fill="none" stroke="#0A8A60" stroke-width="0.70"/>
<path d="M300.15,30.54 L302.85,33.24 M300.15,33.24 L302.85,30.54" fill="none" stroke="#0A8A60" stroke-width="0.70"/>
<path d="M307.45,31.20 L310.15,33.90 M307.45,33.90 L310.15,31.20" fill="none" stroke="#0A8A60" stroke-width="0.70"/>
<path d="M318.45,32.10 L321.15,34.80 M318.45,34.80 L321.15,32.10" fill="none" stroke="#0A8A60" stroke-width="0.70"/>
<path d="M329.45,32.90 L332.15,35.60 M329.45,35.60 L332.15,32.90" fill="none" stroke="#0A8A60" stroke-width="0.70"/>
<path d="M336.75,33.36 L339.45,36.06 M336.75,36.06 L339.45,33.36" fill="none" stroke="#0A8A60" stroke-width="0.70"/>
<path d="M344.05,33.77 L346.75,36.47 M344.05,36.47 L346.75,33.77" fill="none" stroke="#0A8A60" stroke-width="0.70"/>
<path d="M355.15,34.30 L357.85,37.00 M355.15,37.00 L357.85,34.30" fill="none" stroke="#0A8A60" stroke-width="0.70"/>
<path d="M366.15,34.70 L368.85,37.40 M366.15,37.40 L368.85,34.70" fill="none" stroke="#0A8A60" stroke-width="0.70"/>
<path d="M373.55,34.89 L376.25,37.59 M373.55,37.59 L376.25,34.89" fill="none" stroke="#0A8A60" stroke-width="0.70"/>
</g>
<g stroke="#555" stroke-width="0.5" fill="none">
<path d="M106.36,234.70 v-1.70 M106.36,4.40 v1.70"/>
<path d="M113.68,234.70 v-1.70 M113.68,4.40 v1.70"/>
<path d="M121.00,234.70 v-3.30 M121.00,4.40 v3.30"/>
<path d="M128.32,234.70 v-1.70 M128.32,4.40 v1.70"/>
<path d="M135.64,234.70 v-1.70 M135.64,4.40 v1.70"/>
<path d="M142.96,234.70 v-1.70 M142.96,4.40 v1.70"/>
<path d="M150.28,234.70 v-1.70 M150.28,4.40 v1.70"/>
<path d="M157.60,234.70 v-3.30 M157.60,4.40 v3.30"/>
<path d="M164.92,234.70 v-1.70 M164.92,4.40 v1.70"/>
<path d="M172.24,234.70 v-1.70 M172.24,4.40 v1.70"/>
<path d="M179.56,234.70 v-1.70 M179.56,4.40 v1.70"/>
<path d="M186.88,234.70 v-1.70 M186.88,4.40 v1.70"/>
<path d="M194.20,234.70 v-3.30 M194.20,4.40 v3.30"/>
<path d="M201.52,234.70 v-1.70 M201.52,4.40 v1.70"/>
<path d="M208.84,234.70 v-1.70 M208.84,4.40 v1.70"/>
<path d="M216.16,234.70 v-1.70 M216.16,4.40 v1.70"/>
<path d="M223.48,234.70 v-1.70 M223.48,4.40 v1.70"/>
<path d="M230.80,234.70 v-3.30 M230.80,4.40 v3.30"/>
<path d="M238.12,234.70 v-1.70 M238.12,4.40 v1.70"/>
<path d="M245.44,234.70 v-1.70 M245.44,4.40 v1.70"/>
<path d="M252.76,234.70 v-1.70 M252.76,4.40 v1.70"/>
<path d="M260.08,234.70 v-1.70 M260.08,4.40 v1.70"/>
<path d="M267.40,234.70 v-3.30 M267.40,4.40 v3.30"/>
<path d="M274.72,234.70 v-1.70 M274.72,4.40 v1.70"/>
<path d="M282.04,234.70 v-1.70 M282.04,4.40 v1.70"/>
<path d="M289.36,234.70 v-1.70 M289.36,4.40 v1.70"/>
<path d="M296.68,234.70 v-1.70 M296.68,4.40 v1.70"/>
<path d="M304.00,234.70 v-3.30 M304.00,4.40 v3.30"/>
<path d="M311.32,234.70 v-1.70 M311.32,4.40 v1.70"/>
<path d="M318.64,234.70 v-1.70 M318.64,4.40 v1.70"/>
<path d="M325.96,234.70 v-1.70 M325.96,4.40 v1.70"/>
<path d="M333.28,234.70 v-1.70 M333.28,4.40 v1.70"/>
<path d="M340.60,234.70 v-3.30 M340.60,4.40 v3.30"/>
<path d="M347.92,234.70 v-1.70 M347.92,4.40 v1.70"/>
<path d="M355.24,234.70 v-1.70 M355.24,4.40 v1.70"/>
<path d="M362.56,234.70 v-1.70 M362.56,4.40 v1.70"/>
<path d="M369.88,234.70 v-1.70 M369.88,4.40 v1.70"/>
<path d="M102.60,225.92 h1.70"/>
<path d="M102.60,211.50 h3.30"/>
<path d="M102.60,197.08 h1.70"/>
<path d="M102.60,182.66 h1.70"/>
<path d="M102.60,168.25 h1.70"/>
<path d="M102.60,153.83 h3.30"/>
<path d="M102.60,139.41 h1.70"/>
<path d="M102.60,124.99 h1.70"/>
<path d="M102.60,110.58 h1.70"/>
<path d="M102.60,96.16 h3.30"/>
<path d="M102.60,81.74 h1.70"/>
<path d="M102.60,67.32 h1.70"/>
<path d="M102.60,52.91 h1.70"/>
<path d="M102.60,38.49 h3.30"/>
<path d="M102.60,24.07 h1.70"/>
<path d="M102.60,9.65 h1.70"/>
</g>
<rect x="102.60" y="4.40" width="275.00" height="230.30" fill="none" stroke="#2a2a2a" stroke-width="0.95"/>
<g>
<circle cx="320.40" cy="167.80" r="1.40" fill="#000000"/>
<rect x="318.90" y="178.02" width="3.00" height="3.00" fill="none" stroke="#F0A428" stroke-width="0.55"/>
<rect x="319.10" y="189.94" width="2.60" height="2.60" fill="#F0E442"/>
<path d="M320.40,201.46 L321.75,204.01 L319.05,204.01 Z" fill="#4394F0"/>
<path d="M320.40,213.28 L321.93,216.17 L318.87,216.17 Z" fill="none" stroke="#E5402C" stroke-width="0.50"/>
<circle cx="361.70" cy="167.80" r="0.95" fill="#B05CE4"/>
<path d="M360.20,178.02 L363.20,181.02 M360.20,181.02 L363.20,178.02" fill="none" stroke="#009E73" stroke-width="0.50"/>
<circle cx="361.70" cy="191.24" r="1.50" fill="none" stroke="#56B4E9" stroke-width="0.55"/>
<path d="M361.70,204.46 L363.32,201.40 L360.08,201.40 Z" fill="none" stroke="#4CD04C" stroke-width="0.50"/>
<path d="M360.40,213.38 L363.00,215.98 M360.40,215.98 L363.00,213.38" fill="none" stroke="#A0A0A0" stroke-width="0.70"/>
</g>
<g class="t">
<text x="121.00" y="242.0" text-anchor="middle" font-size="7.8">3.0</text>
<text x="157.60" y="242.0" text-anchor="middle" font-size="7.8">4.0</text>
<text x="194.20" y="242.0" text-anchor="middle" font-size="7.8">5.0</text>
<text x="230.80" y="242.0" text-anchor="middle" font-size="7.8">6.0</text>
<text x="267.40" y="242.0" text-anchor="middle" font-size="7.8">7.0</text>
<text x="304.00" y="242.0" text-anchor="middle" font-size="7.8">8.0</text>
<text x="340.60" y="242.0" text-anchor="middle" font-size="7.8">9.0</text>
<text x="377.20" y="242.0" text-anchor="middle" font-size="7.8">10.0</text>
<text x="99.9" y="214.30" text-anchor="end" font-size="7.8">10000</text>
<text x="99.9" y="156.63" text-anchor="end" font-size="7.8">12500</text>
<text x="99.9" y="98.96" text-anchor="end" font-size="7.8">15000</text>
<text x="99.9" y="41.29" text-anchor="end" font-size="7.8">17500</text>
<text x="240" y="248.2" text-anchor="middle" font-size="7.7">r<tspan font-size="6.5" dy="3.0">e</tspan><tspan dy="-3.0"> (ang)</tspan></text>
<text transform="translate(71.6,120.1) rotate(-90)" text-anchor="middle" font-size="7.8">Relative energy (cm<tspan font-size="6.1" dy="-3.6">-1</tspan><tspan dy="3.6">)</tspan></text>
</g>
<g class="k">
<text x="231.2" y="221.8" font-size="13">K<tspan font-size="10.4" dy="3.9">2</tspan></text>
<text transform="translate(332.4,162.9) scale(1.12,1)" text-anchor="middle" font-size="11" font-family="'Liberation Serif',serif">Ω</text>
<text x="304.80" y="171.00" text-anchor="end" font-size="9.3">0<tspan font-size="5.8" dy="-3.8">+</tspan><tspan font-size="6.8" dy="6.2">g</tspan></text>
<text x="304.80" y="182.72" text-anchor="end" font-size="9.3">0<tspan font-size="5.8" dy="-3.8">−</tspan><tspan font-size="6.8" dy="6.2">g</tspan></text>
<text x="304.80" y="194.44" text-anchor="end" font-size="9.3">0<tspan font-size="5.8" dy="-3.8">+</tspan><tspan font-size="6.8" dy="6.2">u</tspan></text>
<text x="304.80" y="206.16" text-anchor="end" font-size="9.3">0<tspan font-size="5.8" dy="-3.8">−</tspan><tspan font-size="6.8" dy="6.2">u</tspan></text>
<text x="304.80" y="217.88" text-anchor="end" font-size="9.3">1<tspan font-size="6.8" dy="2.4">g</tspan></text>
<text x="346.20" y="171.00" text-anchor="end" font-size="9.3">1<tspan font-size="6.8" dy="2.4">u</tspan></text>
<text x="346.20" y="182.72" text-anchor="end" font-size="9.3">2<tspan font-size="6.8" dy="2.4">g</tspan></text>
<text x="346.20" y="194.44" text-anchor="end" font-size="9.3">2<tspan font-size="6.8" dy="2.4">u</tspan></text>
<text x="346.20" y="206.16" text-anchor="end" font-size="9.3">3<tspan font-size="6.8" dy="2.4">g</tspan></text>
<text x="346.20" y="217.88" text-anchor="end" font-size="9.3">3<tspan font-size="6.8" dy="2.4">u</tspan></text>
</g>
</svg>
</body></html>
